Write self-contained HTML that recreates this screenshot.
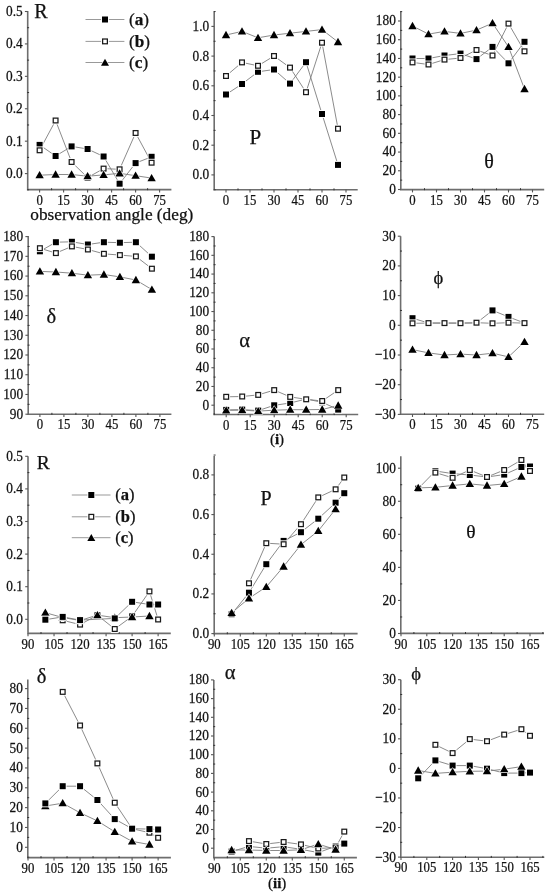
<!DOCTYPE html>
<html><head><meta charset="utf-8"><title>Figure</title>
<style>
html,body{margin:0;padding:0;background:#fff;}
body{width:550px;height:895px;overflow:hidden;}
svg{display:block;filter:blur(0.3px);}
text{font-family:"Liberation Serif","Times New Roman",serif;fill:#111;stroke:#111;stroke-width:0.25px;}
.yl{font-size:14.5px;text-anchor:end;}
.xl{font-size:14.2px;text-anchor:middle;}
.tt{fill:#111;}
.lg{font-weight:normal;}
.ob{font-size:16.8px;}
.lab{font-size:15px;text-anchor:middle;}
</style></head>
<body>
<svg width="550" height="895" viewBox="0 0 550 895">
<rect width="550" height="895" fill="#fff"/>
<path d="M27.7 11V189.6H171.4" fill="none" stroke="#6e6e6e" stroke-width="1.6"/>
<path d="M24.9 173.6H27.7" stroke="#555" stroke-width="1.1"/>
<text transform="matrix(0.92 0 0 1 22.7 178)" class="yl">0.0</text>
<path d="M24.9 141.18H27.7" stroke="#555" stroke-width="1.1"/>
<text transform="matrix(0.92 0 0 1 22.7 145.58)" class="yl">0.1</text>
<path d="M24.9 108.76H27.7" stroke="#555" stroke-width="1.1"/>
<text transform="matrix(0.92 0 0 1 22.7 113.16)" class="yl">0.2</text>
<path d="M24.9 76.34H27.7" stroke="#555" stroke-width="1.1"/>
<text transform="matrix(0.92 0 0 1 22.7 80.74)" class="yl">0.3</text>
<path d="M24.9 43.92H27.7" stroke="#555" stroke-width="1.1"/>
<text transform="matrix(0.92 0 0 1 22.7 48.32)" class="yl">0.4</text>
<path d="M24.9 11.5H27.7" stroke="#555" stroke-width="1.1"/>
<text transform="matrix(0.92 0 0 1 22.7 15.9)" class="yl">0.5</text>
<path d="M27.1 189.81H29.1" stroke="#333" stroke-width="1"/>
<path d="M27.1 157.39H29.1" stroke="#333" stroke-width="1"/>
<path d="M27.1 124.97H29.1" stroke="#333" stroke-width="1"/>
<path d="M27.1 92.55H29.1" stroke="#333" stroke-width="1"/>
<path d="M27.1 60.13H29.1" stroke="#333" stroke-width="1"/>
<path d="M27.1 27.71H29.1" stroke="#333" stroke-width="1"/>
<path d="M39.6 189.6V192.4" stroke="#555" stroke-width="1.1"/>
<text transform="matrix(0.9 0 0 1 39.6 204.7)" class="xl">0</text>
<path d="M63.6 189.6V192.4" stroke="#555" stroke-width="1.1"/>
<text transform="matrix(0.9 0 0 1 63.6 204.7)" class="xl">15</text>
<path d="M87.6 189.6V192.4" stroke="#555" stroke-width="1.1"/>
<text transform="matrix(0.9 0 0 1 87.6 204.7)" class="xl">30</text>
<path d="M111.6 189.6V192.4" stroke="#555" stroke-width="1.1"/>
<text transform="matrix(0.9 0 0 1 111.6 204.7)" class="xl">45</text>
<path d="M135.6 189.6V192.4" stroke="#555" stroke-width="1.1"/>
<text transform="matrix(0.9 0 0 1 135.6 204.7)" class="xl">60</text>
<path d="M159.6 189.6V192.4" stroke="#555" stroke-width="1.1"/>
<text transform="matrix(0.9 0 0 1 159.6 204.7)" class="xl">75</text>
<path d="M51.6 188.2V190.2" stroke="#333" stroke-width="1"/>
<path d="M75.6 188.2V190.2" stroke="#333" stroke-width="1"/>
<path d="M99.6 188.2V190.2" stroke="#333" stroke-width="1"/>
<path d="M123.6 188.2V190.2" stroke="#333" stroke-width="1"/>
<path d="M147.6 188.2V190.2" stroke="#333" stroke-width="1"/>
<path d="M214.2 11.8V189.8H357.7" fill="none" stroke="#6e6e6e" stroke-width="1.6"/>
<path d="M211.4 174.9H214.2" stroke="#555" stroke-width="1.1"/>
<text transform="matrix(0.92 0 0 1 209.2 179.3)" class="yl">0.0</text>
<path d="M211.4 145.2H214.2" stroke="#555" stroke-width="1.1"/>
<text transform="matrix(0.92 0 0 1 209.2 149.6)" class="yl">0.2</text>
<path d="M211.4 115.5H214.2" stroke="#555" stroke-width="1.1"/>
<text transform="matrix(0.92 0 0 1 209.2 119.9)" class="yl">0.4</text>
<path d="M211.4 85.8H214.2" stroke="#555" stroke-width="1.1"/>
<text transform="matrix(0.92 0 0 1 209.2 90.2)" class="yl">0.6</text>
<path d="M211.4 56.1H214.2" stroke="#555" stroke-width="1.1"/>
<text transform="matrix(0.92 0 0 1 209.2 60.5)" class="yl">0.8</text>
<path d="M211.4 26.4H214.2" stroke="#555" stroke-width="1.1"/>
<text transform="matrix(0.92 0 0 1 209.2 30.8)" class="yl">1.0</text>
<path d="M213.6 189.75H215.6" stroke="#333" stroke-width="1"/>
<path d="M213.6 160.05H215.6" stroke="#333" stroke-width="1"/>
<path d="M213.6 130.35H215.6" stroke="#333" stroke-width="1"/>
<path d="M213.6 100.65H215.6" stroke="#333" stroke-width="1"/>
<path d="M213.6 70.95H215.6" stroke="#333" stroke-width="1"/>
<path d="M213.6 41.25H215.6" stroke="#333" stroke-width="1"/>
<path d="M213.6 11.55H215.6" stroke="#333" stroke-width="1"/>
<path d="M226 189.8V192.6" stroke="#555" stroke-width="1.1"/>
<text transform="matrix(0.9 0 0 1 226 204.9)" class="xl">0</text>
<path d="M250 189.8V192.6" stroke="#555" stroke-width="1.1"/>
<text transform="matrix(0.9 0 0 1 250 204.9)" class="xl">15</text>
<path d="M274 189.8V192.6" stroke="#555" stroke-width="1.1"/>
<text transform="matrix(0.9 0 0 1 274 204.9)" class="xl">30</text>
<path d="M298 189.8V192.6" stroke="#555" stroke-width="1.1"/>
<text transform="matrix(0.9 0 0 1 298 204.9)" class="xl">45</text>
<path d="M322 189.8V192.6" stroke="#555" stroke-width="1.1"/>
<text transform="matrix(0.9 0 0 1 322 204.9)" class="xl">60</text>
<path d="M346 189.8V192.6" stroke="#555" stroke-width="1.1"/>
<text transform="matrix(0.9 0 0 1 346 204.9)" class="xl">75</text>
<path d="M238 188.4V190.4" stroke="#333" stroke-width="1"/>
<path d="M262 188.4V190.4" stroke="#333" stroke-width="1"/>
<path d="M286 188.4V190.4" stroke="#333" stroke-width="1"/>
<path d="M310 188.4V190.4" stroke="#333" stroke-width="1"/>
<path d="M334 188.4V190.4" stroke="#333" stroke-width="1"/>
<path d="M400.8 11.3V189.6H544.2" fill="none" stroke="#6e6e6e" stroke-width="1.6"/>
<path d="M398 189.5H400.8" stroke="#555" stroke-width="1.1"/>
<text transform="matrix(0.92 0 0 1 395.8 193.9)" class="yl">0</text>
<path d="M398 170.78H400.8" stroke="#555" stroke-width="1.1"/>
<text transform="matrix(0.92 0 0 1 395.8 175.18)" class="yl">20</text>
<path d="M398 152.06H400.8" stroke="#555" stroke-width="1.1"/>
<text transform="matrix(0.92 0 0 1 395.8 156.46)" class="yl">40</text>
<path d="M398 133.33H400.8" stroke="#555" stroke-width="1.1"/>
<text transform="matrix(0.92 0 0 1 395.8 137.73)" class="yl">60</text>
<path d="M398 114.61H400.8" stroke="#555" stroke-width="1.1"/>
<text transform="matrix(0.92 0 0 1 395.8 119.01)" class="yl">80</text>
<path d="M398 95.89H400.8" stroke="#555" stroke-width="1.1"/>
<text transform="matrix(0.92 0 0 1 395.8 100.29)" class="yl">100</text>
<path d="M398 77.17H400.8" stroke="#555" stroke-width="1.1"/>
<text transform="matrix(0.92 0 0 1 395.8 81.57)" class="yl">120</text>
<path d="M398 58.44H400.8" stroke="#555" stroke-width="1.1"/>
<text transform="matrix(0.92 0 0 1 395.8 62.84)" class="yl">140</text>
<path d="M398 39.72H400.8" stroke="#555" stroke-width="1.1"/>
<text transform="matrix(0.92 0 0 1 395.8 44.12)" class="yl">160</text>
<path d="M398 21H400.8" stroke="#555" stroke-width="1.1"/>
<text transform="matrix(0.92 0 0 1 395.8 25.4)" class="yl">180</text>
<path d="M400.2 180.14H402.2" stroke="#333" stroke-width="1"/>
<path d="M400.2 161.42H402.2" stroke="#333" stroke-width="1"/>
<path d="M400.2 142.69H402.2" stroke="#333" stroke-width="1"/>
<path d="M400.2 123.97H402.2" stroke="#333" stroke-width="1"/>
<path d="M400.2 105.25H402.2" stroke="#333" stroke-width="1"/>
<path d="M400.2 86.53H402.2" stroke="#333" stroke-width="1"/>
<path d="M400.2 67.81H402.2" stroke="#333" stroke-width="1"/>
<path d="M400.2 49.08H402.2" stroke="#333" stroke-width="1"/>
<path d="M400.2 30.36H402.2" stroke="#333" stroke-width="1"/>
<path d="M400.2 11.64H402.2" stroke="#333" stroke-width="1"/>
<path d="M412.5 189.6V192.4" stroke="#555" stroke-width="1.1"/>
<text transform="matrix(0.9 0 0 1 412.5 204.7)" class="xl">0</text>
<path d="M436.5 189.6V192.4" stroke="#555" stroke-width="1.1"/>
<text transform="matrix(0.9 0 0 1 436.5 204.7)" class="xl">15</text>
<path d="M460.5 189.6V192.4" stroke="#555" stroke-width="1.1"/>
<text transform="matrix(0.9 0 0 1 460.5 204.7)" class="xl">30</text>
<path d="M484.5 189.6V192.4" stroke="#555" stroke-width="1.1"/>
<text transform="matrix(0.9 0 0 1 484.5 204.7)" class="xl">45</text>
<path d="M508.5 189.6V192.4" stroke="#555" stroke-width="1.1"/>
<text transform="matrix(0.9 0 0 1 508.5 204.7)" class="xl">60</text>
<path d="M532.5 189.6V192.4" stroke="#555" stroke-width="1.1"/>
<text transform="matrix(0.9 0 0 1 532.5 204.7)" class="xl">75</text>
<path d="M424.5 188.2V190.2" stroke="#333" stroke-width="1"/>
<path d="M448.5 188.2V190.2" stroke="#333" stroke-width="1"/>
<path d="M472.5 188.2V190.2" stroke="#333" stroke-width="1"/>
<path d="M496.5 188.2V190.2" stroke="#333" stroke-width="1"/>
<path d="M520.5 188.2V190.2" stroke="#333" stroke-width="1"/>
<path d="M28.2 236V414.2H171.4" fill="none" stroke="#6e6e6e" stroke-width="1.6"/>
<path d="M25.4 414.2H28.2" stroke="#555" stroke-width="1.1"/>
<text transform="matrix(0.92 0 0 1 23.2 418.6)" class="yl">90</text>
<path d="M25.4 394.47H28.2" stroke="#555" stroke-width="1.1"/>
<text transform="matrix(0.92 0 0 1 23.2 398.87)" class="yl">100</text>
<path d="M25.4 374.73H28.2" stroke="#555" stroke-width="1.1"/>
<text transform="matrix(0.92 0 0 1 23.2 379.13)" class="yl">110</text>
<path d="M25.4 355H28.2" stroke="#555" stroke-width="1.1"/>
<text transform="matrix(0.92 0 0 1 23.2 359.4)" class="yl">120</text>
<path d="M25.4 335.27H28.2" stroke="#555" stroke-width="1.1"/>
<text transform="matrix(0.92 0 0 1 23.2 339.67)" class="yl">130</text>
<path d="M25.4 315.53H28.2" stroke="#555" stroke-width="1.1"/>
<text transform="matrix(0.92 0 0 1 23.2 319.93)" class="yl">140</text>
<path d="M25.4 295.8H28.2" stroke="#555" stroke-width="1.1"/>
<text transform="matrix(0.92 0 0 1 23.2 300.2)" class="yl">150</text>
<path d="M25.4 276.07H28.2" stroke="#555" stroke-width="1.1"/>
<text transform="matrix(0.92 0 0 1 23.2 280.47)" class="yl">160</text>
<path d="M25.4 256.33H28.2" stroke="#555" stroke-width="1.1"/>
<text transform="matrix(0.92 0 0 1 23.2 260.73)" class="yl">170</text>
<path d="M25.4 236.6H28.2" stroke="#555" stroke-width="1.1"/>
<text transform="matrix(0.92 0 0 1 23.2 241)" class="yl">180</text>
<path d="M27.6 404.33H29.6" stroke="#333" stroke-width="1"/>
<path d="M27.6 384.6H29.6" stroke="#333" stroke-width="1"/>
<path d="M27.6 364.87H29.6" stroke="#333" stroke-width="1"/>
<path d="M27.6 345.13H29.6" stroke="#333" stroke-width="1"/>
<path d="M27.6 325.4H29.6" stroke="#333" stroke-width="1"/>
<path d="M27.6 305.67H29.6" stroke="#333" stroke-width="1"/>
<path d="M27.6 285.93H29.6" stroke="#333" stroke-width="1"/>
<path d="M27.6 266.2H29.6" stroke="#333" stroke-width="1"/>
<path d="M27.6 246.47H29.6" stroke="#333" stroke-width="1"/>
<path d="M39.9 414.2V417" stroke="#555" stroke-width="1.1"/>
<text transform="matrix(0.9 0 0 1 39.9 429.3)" class="xl">0</text>
<path d="M63.9 414.2V417" stroke="#555" stroke-width="1.1"/>
<text transform="matrix(0.9 0 0 1 63.9 429.3)" class="xl">15</text>
<path d="M87.9 414.2V417" stroke="#555" stroke-width="1.1"/>
<text transform="matrix(0.9 0 0 1 87.9 429.3)" class="xl">30</text>
<path d="M111.9 414.2V417" stroke="#555" stroke-width="1.1"/>
<text transform="matrix(0.9 0 0 1 111.9 429.3)" class="xl">45</text>
<path d="M135.9 414.2V417" stroke="#555" stroke-width="1.1"/>
<text transform="matrix(0.9 0 0 1 135.9 429.3)" class="xl">60</text>
<path d="M159.9 414.2V417" stroke="#555" stroke-width="1.1"/>
<text transform="matrix(0.9 0 0 1 159.9 429.3)" class="xl">75</text>
<path d="M51.9 412.8V414.8" stroke="#333" stroke-width="1"/>
<path d="M75.9 412.8V414.8" stroke="#333" stroke-width="1"/>
<path d="M99.9 412.8V414.8" stroke="#333" stroke-width="1"/>
<path d="M123.9 412.8V414.8" stroke="#333" stroke-width="1"/>
<path d="M147.9 412.8V414.8" stroke="#333" stroke-width="1"/>
<path d="M214.2 236.4V414.5H358.2" fill="none" stroke="#6e6e6e" stroke-width="1.6"/>
<path d="M211.4 405.2H214.2" stroke="#555" stroke-width="1.1"/>
<text transform="matrix(0.92 0 0 1 209.2 409.6)" class="yl">0</text>
<path d="M211.4 386.47H214.2" stroke="#555" stroke-width="1.1"/>
<text transform="matrix(0.92 0 0 1 209.2 390.87)" class="yl">20</text>
<path d="M211.4 367.73H214.2" stroke="#555" stroke-width="1.1"/>
<text transform="matrix(0.92 0 0 1 209.2 372.13)" class="yl">40</text>
<path d="M211.4 349H214.2" stroke="#555" stroke-width="1.1"/>
<text transform="matrix(0.92 0 0 1 209.2 353.4)" class="yl">60</text>
<path d="M211.4 330.27H214.2" stroke="#555" stroke-width="1.1"/>
<text transform="matrix(0.92 0 0 1 209.2 334.67)" class="yl">80</text>
<path d="M211.4 311.53H214.2" stroke="#555" stroke-width="1.1"/>
<text transform="matrix(0.92 0 0 1 209.2 315.93)" class="yl">100</text>
<path d="M211.4 292.8H214.2" stroke="#555" stroke-width="1.1"/>
<text transform="matrix(0.92 0 0 1 209.2 297.2)" class="yl">120</text>
<path d="M211.4 274.07H214.2" stroke="#555" stroke-width="1.1"/>
<text transform="matrix(0.92 0 0 1 209.2 278.47)" class="yl">140</text>
<path d="M211.4 255.33H214.2" stroke="#555" stroke-width="1.1"/>
<text transform="matrix(0.92 0 0 1 209.2 259.73)" class="yl">160</text>
<path d="M211.4 236.6H214.2" stroke="#555" stroke-width="1.1"/>
<text transform="matrix(0.92 0 0 1 209.2 241)" class="yl">180</text>
<path d="M213.6 395.83H215.6" stroke="#333" stroke-width="1"/>
<path d="M213.6 377.1H215.6" stroke="#333" stroke-width="1"/>
<path d="M213.6 358.37H215.6" stroke="#333" stroke-width="1"/>
<path d="M213.6 339.63H215.6" stroke="#333" stroke-width="1"/>
<path d="M213.6 320.9H215.6" stroke="#333" stroke-width="1"/>
<path d="M213.6 302.17H215.6" stroke="#333" stroke-width="1"/>
<path d="M213.6 283.43H215.6" stroke="#333" stroke-width="1"/>
<path d="M213.6 264.7H215.6" stroke="#333" stroke-width="1"/>
<path d="M213.6 245.97H215.6" stroke="#333" stroke-width="1"/>
<path d="M226.2 414.5V417.3" stroke="#555" stroke-width="1.1"/>
<text transform="matrix(0.9 0 0 1 226.2 429.6)" class="xl">0</text>
<path d="M250.2 414.5V417.3" stroke="#555" stroke-width="1.1"/>
<text transform="matrix(0.9 0 0 1 250.2 429.6)" class="xl">15</text>
<path d="M274.2 414.5V417.3" stroke="#555" stroke-width="1.1"/>
<text transform="matrix(0.9 0 0 1 274.2 429.6)" class="xl">30</text>
<path d="M298.2 414.5V417.3" stroke="#555" stroke-width="1.1"/>
<text transform="matrix(0.9 0 0 1 298.2 429.6)" class="xl">45</text>
<path d="M322.2 414.5V417.3" stroke="#555" stroke-width="1.1"/>
<text transform="matrix(0.9 0 0 1 322.2 429.6)" class="xl">60</text>
<path d="M346.2 414.5V417.3" stroke="#555" stroke-width="1.1"/>
<text transform="matrix(0.9 0 0 1 346.2 429.6)" class="xl">75</text>
<path d="M214.2 413.1V415.1" stroke="#333" stroke-width="1"/>
<path d="M238.2 413.1V415.1" stroke="#333" stroke-width="1"/>
<path d="M262.2 413.1V415.1" stroke="#333" stroke-width="1"/>
<path d="M286.2 413.1V415.1" stroke="#333" stroke-width="1"/>
<path d="M310.2 413.1V415.1" stroke="#333" stroke-width="1"/>
<path d="M334.2 413.1V415.1" stroke="#333" stroke-width="1"/>
<path d="M400.6 236.2V414.2H544.2" fill="none" stroke="#6e6e6e" stroke-width="1.6"/>
<path d="M397.8 414.4H400.6" stroke="#555" stroke-width="1.1"/>
<text transform="matrix(0.92 0 0 1 395.6 418.8)" class="yl">−30</text>
<path d="M397.8 384.7H400.6" stroke="#555" stroke-width="1.1"/>
<text transform="matrix(0.92 0 0 1 395.6 389.1)" class="yl">−20</text>
<path d="M397.8 355H400.6" stroke="#555" stroke-width="1.1"/>
<text transform="matrix(0.92 0 0 1 395.6 359.4)" class="yl">−10</text>
<path d="M397.8 325.3H400.6" stroke="#555" stroke-width="1.1"/>
<text transform="matrix(0.92 0 0 1 395.6 329.7)" class="yl">0</text>
<path d="M397.8 295.6H400.6" stroke="#555" stroke-width="1.1"/>
<text transform="matrix(0.92 0 0 1 395.6 300)" class="yl">10</text>
<path d="M397.8 265.9H400.6" stroke="#555" stroke-width="1.1"/>
<text transform="matrix(0.92 0 0 1 395.6 270.3)" class="yl">20</text>
<path d="M397.8 236.2H400.6" stroke="#555" stroke-width="1.1"/>
<text transform="matrix(0.92 0 0 1 395.6 240.6)" class="yl">30</text>
<path d="M400 399.55H402" stroke="#333" stroke-width="1"/>
<path d="M400 369.85H402" stroke="#333" stroke-width="1"/>
<path d="M400 340.15H402" stroke="#333" stroke-width="1"/>
<path d="M400 310.45H402" stroke="#333" stroke-width="1"/>
<path d="M400 280.75H402" stroke="#333" stroke-width="1"/>
<path d="M400 251.05H402" stroke="#333" stroke-width="1"/>
<path d="M412.5 414.2V417" stroke="#555" stroke-width="1.1"/>
<text transform="matrix(0.9 0 0 1 412.5 429.3)" class="xl">0</text>
<path d="M436.5 414.2V417" stroke="#555" stroke-width="1.1"/>
<text transform="matrix(0.9 0 0 1 436.5 429.3)" class="xl">15</text>
<path d="M460.5 414.2V417" stroke="#555" stroke-width="1.1"/>
<text transform="matrix(0.9 0 0 1 460.5 429.3)" class="xl">30</text>
<path d="M484.5 414.2V417" stroke="#555" stroke-width="1.1"/>
<text transform="matrix(0.9 0 0 1 484.5 429.3)" class="xl">45</text>
<path d="M508.5 414.2V417" stroke="#555" stroke-width="1.1"/>
<text transform="matrix(0.9 0 0 1 508.5 429.3)" class="xl">60</text>
<path d="M532.5 414.2V417" stroke="#555" stroke-width="1.1"/>
<text transform="matrix(0.9 0 0 1 532.5 429.3)" class="xl">75</text>
<path d="M424.5 412.8V414.8" stroke="#333" stroke-width="1"/>
<path d="M448.5 412.8V414.8" stroke="#333" stroke-width="1"/>
<path d="M472.5 412.8V414.8" stroke="#333" stroke-width="1"/>
<path d="M496.5 412.8V414.8" stroke="#333" stroke-width="1"/>
<path d="M520.5 412.8V414.8" stroke="#333" stroke-width="1"/>
<path d="M28 456.3V633.4H170.8" fill="none" stroke="#6e6e6e" stroke-width="1.6"/>
<path d="M25.2 619.3H28" stroke="#555" stroke-width="1.1"/>
<text transform="matrix(0.92 0 0 1 23 623.7)" class="yl">0.0</text>
<path d="M25.2 586.7H28" stroke="#555" stroke-width="1.1"/>
<text transform="matrix(0.92 0 0 1 23 591.1)" class="yl">0.1</text>
<path d="M25.2 554.1H28" stroke="#555" stroke-width="1.1"/>
<text transform="matrix(0.92 0 0 1 23 558.5)" class="yl">0.2</text>
<path d="M25.2 521.5H28" stroke="#555" stroke-width="1.1"/>
<text transform="matrix(0.92 0 0 1 23 525.9)" class="yl">0.3</text>
<path d="M25.2 488.9H28" stroke="#555" stroke-width="1.1"/>
<text transform="matrix(0.92 0 0 1 23 493.3)" class="yl">0.4</text>
<path d="M25.2 456.3H28" stroke="#555" stroke-width="1.1"/>
<text transform="matrix(0.92 0 0 1 23 460.7)" class="yl">0.5</text>
<path d="M27.4 603H29.4" stroke="#333" stroke-width="1"/>
<path d="M27.4 570.4H29.4" stroke="#333" stroke-width="1"/>
<path d="M27.4 537.8H29.4" stroke="#333" stroke-width="1"/>
<path d="M27.4 505.2H29.4" stroke="#333" stroke-width="1"/>
<path d="M27.4 472.6H29.4" stroke="#333" stroke-width="1"/>
<path d="M28 633.4V636.2" stroke="#555" stroke-width="1.1"/>
<text transform="matrix(0.9 0 0 1 28 648.5)" class="xl">90</text>
<path d="M54.03 633.4V636.2" stroke="#555" stroke-width="1.1"/>
<text transform="matrix(0.9 0 0 1 54.03 648.5)" class="xl">105</text>
<path d="M80.05 633.4V636.2" stroke="#555" stroke-width="1.1"/>
<text transform="matrix(0.9 0 0 1 80.05 648.5)" class="xl">120</text>
<path d="M106.08 633.4V636.2" stroke="#555" stroke-width="1.1"/>
<text transform="matrix(0.9 0 0 1 106.08 648.5)" class="xl">135</text>
<path d="M132.1 633.4V636.2" stroke="#555" stroke-width="1.1"/>
<text transform="matrix(0.9 0 0 1 132.1 648.5)" class="xl">150</text>
<path d="M158.12 633.4V636.2" stroke="#555" stroke-width="1.1"/>
<text transform="matrix(0.9 0 0 1 158.12 648.5)" class="xl">165</text>
<path d="M41.01 632V634" stroke="#333" stroke-width="1"/>
<path d="M67.04 632V634" stroke="#333" stroke-width="1"/>
<path d="M93.06 632V634" stroke="#333" stroke-width="1"/>
<path d="M119.09 632V634" stroke="#333" stroke-width="1"/>
<path d="M145.11 632V634" stroke="#333" stroke-width="1"/>
<path d="M214.2 455.9V633.6H357.6" fill="none" stroke="#6e6e6e" stroke-width="1.6"/>
<path d="M211.4 633.6H214.2" stroke="#555" stroke-width="1.1"/>
<text transform="matrix(0.92 0 0 1 209.2 638)" class="yl">0.0</text>
<path d="M211.4 593.92H214.2" stroke="#555" stroke-width="1.1"/>
<text transform="matrix(0.92 0 0 1 209.2 598.32)" class="yl">0.2</text>
<path d="M211.4 554.25H214.2" stroke="#555" stroke-width="1.1"/>
<text transform="matrix(0.92 0 0 1 209.2 558.65)" class="yl">0.4</text>
<path d="M211.4 514.58H214.2" stroke="#555" stroke-width="1.1"/>
<text transform="matrix(0.92 0 0 1 209.2 518.98)" class="yl">0.6</text>
<path d="M211.4 474.9H214.2" stroke="#555" stroke-width="1.1"/>
<text transform="matrix(0.92 0 0 1 209.2 479.3)" class="yl">0.8</text>
<path d="M213.6 613.76H215.6" stroke="#333" stroke-width="1"/>
<path d="M213.6 574.09H215.6" stroke="#333" stroke-width="1"/>
<path d="M213.6 534.41H215.6" stroke="#333" stroke-width="1"/>
<path d="M213.6 494.74H215.6" stroke="#333" stroke-width="1"/>
<path d="M213.6 455.06H215.6" stroke="#333" stroke-width="1"/>
<path d="M214.3 633.6V636.4" stroke="#555" stroke-width="1.1"/>
<text transform="matrix(0.9 0 0 1 214.3 648.7)" class="xl">90</text>
<path d="M240.3 633.6V636.4" stroke="#555" stroke-width="1.1"/>
<text transform="matrix(0.9 0 0 1 240.3 648.7)" class="xl">105</text>
<path d="M266.29 633.6V636.4" stroke="#555" stroke-width="1.1"/>
<text transform="matrix(0.9 0 0 1 266.29 648.7)" class="xl">120</text>
<path d="M292.29 633.6V636.4" stroke="#555" stroke-width="1.1"/>
<text transform="matrix(0.9 0 0 1 292.29 648.7)" class="xl">135</text>
<path d="M318.28 633.6V636.4" stroke="#555" stroke-width="1.1"/>
<text transform="matrix(0.9 0 0 1 318.28 648.7)" class="xl">150</text>
<path d="M344.27 633.6V636.4" stroke="#555" stroke-width="1.1"/>
<text transform="matrix(0.9 0 0 1 344.27 648.7)" class="xl">165</text>
<path d="M227.3 632.2V634.2" stroke="#333" stroke-width="1"/>
<path d="M253.29 632.2V634.2" stroke="#333" stroke-width="1"/>
<path d="M279.29 632.2V634.2" stroke="#333" stroke-width="1"/>
<path d="M305.28 632.2V634.2" stroke="#333" stroke-width="1"/>
<path d="M331.28 632.2V634.2" stroke="#333" stroke-width="1"/>
<path d="M400.8 456.3V633.4H544" fill="none" stroke="#6e6e6e" stroke-width="1.6"/>
<path d="M398 633.5H400.8" stroke="#555" stroke-width="1.1"/>
<text transform="matrix(0.92 0 0 1 395.8 637.9)" class="yl">0</text>
<path d="M398 600.44H400.8" stroke="#555" stroke-width="1.1"/>
<text transform="matrix(0.92 0 0 1 395.8 604.84)" class="yl">20</text>
<path d="M398 567.38H400.8" stroke="#555" stroke-width="1.1"/>
<text transform="matrix(0.92 0 0 1 395.8 571.78)" class="yl">40</text>
<path d="M398 534.32H400.8" stroke="#555" stroke-width="1.1"/>
<text transform="matrix(0.92 0 0 1 395.8 538.72)" class="yl">60</text>
<path d="M398 501.26H400.8" stroke="#555" stroke-width="1.1"/>
<text transform="matrix(0.92 0 0 1 395.8 505.66)" class="yl">80</text>
<path d="M398 468.2H400.8" stroke="#555" stroke-width="1.1"/>
<text transform="matrix(0.92 0 0 1 395.8 472.6)" class="yl">100</text>
<path d="M400.2 616.97H402.2" stroke="#333" stroke-width="1"/>
<path d="M400.2 583.91H402.2" stroke="#333" stroke-width="1"/>
<path d="M400.2 550.85H402.2" stroke="#333" stroke-width="1"/>
<path d="M400.2 517.79H402.2" stroke="#333" stroke-width="1"/>
<path d="M400.2 484.73H402.2" stroke="#333" stroke-width="1"/>
<path d="M401 633.4V636.2" stroke="#555" stroke-width="1.1"/>
<text transform="matrix(0.9 0 0 1 401 648.5)" class="xl">90</text>
<path d="M426.8 633.4V636.2" stroke="#555" stroke-width="1.1"/>
<text transform="matrix(0.9 0 0 1 426.8 648.5)" class="xl">105</text>
<path d="M452.6 633.4V636.2" stroke="#555" stroke-width="1.1"/>
<text transform="matrix(0.9 0 0 1 452.6 648.5)" class="xl">120</text>
<path d="M478.4 633.4V636.2" stroke="#555" stroke-width="1.1"/>
<text transform="matrix(0.9 0 0 1 478.4 648.5)" class="xl">135</text>
<path d="M504.2 633.4V636.2" stroke="#555" stroke-width="1.1"/>
<text transform="matrix(0.9 0 0 1 504.2 648.5)" class="xl">150</text>
<path d="M530 633.4V636.2" stroke="#555" stroke-width="1.1"/>
<text transform="matrix(0.9 0 0 1 530 648.5)" class="xl">165</text>
<path d="M413.9 632V634" stroke="#333" stroke-width="1"/>
<path d="M439.7 632V634" stroke="#333" stroke-width="1"/>
<path d="M465.5 632V634" stroke="#333" stroke-width="1"/>
<path d="M491.3 632V634" stroke="#333" stroke-width="1"/>
<path d="M517.1 632V634" stroke="#333" stroke-width="1"/>
<path d="M542.9 632V634" stroke="#333" stroke-width="1"/>
<path d="M27.8 679.5V857.6H170.9" fill="none" stroke="#6e6e6e" stroke-width="1.6"/>
<path d="M25 847.3H27.8" stroke="#555" stroke-width="1.1"/>
<text transform="matrix(0.92 0 0 1 22.8 851.7)" class="yl">0</text>
<path d="M25 827.46H27.8" stroke="#555" stroke-width="1.1"/>
<text transform="matrix(0.92 0 0 1 22.8 831.86)" class="yl">10</text>
<path d="M25 807.62H27.8" stroke="#555" stroke-width="1.1"/>
<text transform="matrix(0.92 0 0 1 22.8 812.02)" class="yl">20</text>
<path d="M25 787.79H27.8" stroke="#555" stroke-width="1.1"/>
<text transform="matrix(0.92 0 0 1 22.8 792.19)" class="yl">30</text>
<path d="M25 767.95H27.8" stroke="#555" stroke-width="1.1"/>
<text transform="matrix(0.92 0 0 1 22.8 772.35)" class="yl">40</text>
<path d="M25 748.11H27.8" stroke="#555" stroke-width="1.1"/>
<text transform="matrix(0.92 0 0 1 22.8 752.51)" class="yl">50</text>
<path d="M25 728.27H27.8" stroke="#555" stroke-width="1.1"/>
<text transform="matrix(0.92 0 0 1 22.8 732.67)" class="yl">60</text>
<path d="M25 708.44H27.8" stroke="#555" stroke-width="1.1"/>
<text transform="matrix(0.92 0 0 1 22.8 712.84)" class="yl">70</text>
<path d="M25 688.6H27.8" stroke="#555" stroke-width="1.1"/>
<text transform="matrix(0.92 0 0 1 22.8 693)" class="yl">80</text>
<path d="M27.2 857.22H29.2" stroke="#333" stroke-width="1"/>
<path d="M27.2 837.38H29.2" stroke="#333" stroke-width="1"/>
<path d="M27.2 817.54H29.2" stroke="#333" stroke-width="1"/>
<path d="M27.2 797.71H29.2" stroke="#333" stroke-width="1"/>
<path d="M27.2 777.87H29.2" stroke="#333" stroke-width="1"/>
<path d="M27.2 758.03H29.2" stroke="#333" stroke-width="1"/>
<path d="M27.2 738.19H29.2" stroke="#333" stroke-width="1"/>
<path d="M27.2 718.36H29.2" stroke="#333" stroke-width="1"/>
<path d="M27.2 698.52H29.2" stroke="#333" stroke-width="1"/>
<path d="M28 857.6V860.4" stroke="#555" stroke-width="1.1"/>
<text transform="matrix(0.9 0 0 1 28 872.7)" class="xl">90</text>
<path d="M54.03 857.6V860.4" stroke="#555" stroke-width="1.1"/>
<text transform="matrix(0.9 0 0 1 54.03 872.7)" class="xl">105</text>
<path d="M80.05 857.6V860.4" stroke="#555" stroke-width="1.1"/>
<text transform="matrix(0.9 0 0 1 80.05 872.7)" class="xl">120</text>
<path d="M106.08 857.6V860.4" stroke="#555" stroke-width="1.1"/>
<text transform="matrix(0.9 0 0 1 106.08 872.7)" class="xl">135</text>
<path d="M132.1 857.6V860.4" stroke="#555" stroke-width="1.1"/>
<text transform="matrix(0.9 0 0 1 132.1 872.7)" class="xl">150</text>
<path d="M158.12 857.6V860.4" stroke="#555" stroke-width="1.1"/>
<text transform="matrix(0.9 0 0 1 158.12 872.7)" class="xl">165</text>
<path d="M41.01 856.2V858.2" stroke="#333" stroke-width="1"/>
<path d="M67.04 856.2V858.2" stroke="#333" stroke-width="1"/>
<path d="M93.06 856.2V858.2" stroke="#333" stroke-width="1"/>
<path d="M119.09 856.2V858.2" stroke="#333" stroke-width="1"/>
<path d="M145.11 856.2V858.2" stroke="#333" stroke-width="1"/>
<path d="M213.8 679.9V857.6H356.9" fill="none" stroke="#6e6e6e" stroke-width="1.6"/>
<path d="M211 848.2H213.8" stroke="#555" stroke-width="1.1"/>
<text transform="matrix(0.92 0 0 1 208.8 852.6)" class="yl">0</text>
<path d="M211 829.5H213.8" stroke="#555" stroke-width="1.1"/>
<text transform="matrix(0.92 0 0 1 208.8 833.9)" class="yl">20</text>
<path d="M211 810.8H213.8" stroke="#555" stroke-width="1.1"/>
<text transform="matrix(0.92 0 0 1 208.8 815.2)" class="yl">40</text>
<path d="M211 792.1H213.8" stroke="#555" stroke-width="1.1"/>
<text transform="matrix(0.92 0 0 1 208.8 796.5)" class="yl">60</text>
<path d="M211 773.4H213.8" stroke="#555" stroke-width="1.1"/>
<text transform="matrix(0.92 0 0 1 208.8 777.8)" class="yl">80</text>
<path d="M211 754.7H213.8" stroke="#555" stroke-width="1.1"/>
<text transform="matrix(0.92 0 0 1 208.8 759.1)" class="yl">100</text>
<path d="M211 736H213.8" stroke="#555" stroke-width="1.1"/>
<text transform="matrix(0.92 0 0 1 208.8 740.4)" class="yl">120</text>
<path d="M211 717.3H213.8" stroke="#555" stroke-width="1.1"/>
<text transform="matrix(0.92 0 0 1 208.8 721.7)" class="yl">140</text>
<path d="M211 698.6H213.8" stroke="#555" stroke-width="1.1"/>
<text transform="matrix(0.92 0 0 1 208.8 703)" class="yl">160</text>
<path d="M211 679.9H213.8" stroke="#555" stroke-width="1.1"/>
<text transform="matrix(0.92 0 0 1 208.8 684.3)" class="yl">180</text>
<path d="M213.2 838.85H215.2" stroke="#333" stroke-width="1"/>
<path d="M213.2 820.15H215.2" stroke="#333" stroke-width="1"/>
<path d="M213.2 801.45H215.2" stroke="#333" stroke-width="1"/>
<path d="M213.2 782.75H215.2" stroke="#333" stroke-width="1"/>
<path d="M213.2 764.05H215.2" stroke="#333" stroke-width="1"/>
<path d="M213.2 745.35H215.2" stroke="#333" stroke-width="1"/>
<path d="M213.2 726.65H215.2" stroke="#333" stroke-width="1"/>
<path d="M213.2 707.95H215.2" stroke="#333" stroke-width="1"/>
<path d="M213.2 689.25H215.2" stroke="#333" stroke-width="1"/>
<path d="M214.3 857.6V860.4" stroke="#555" stroke-width="1.1"/>
<text transform="matrix(0.9 0 0 1 214.3 872.7)" class="xl">90</text>
<path d="M240.3 857.6V860.4" stroke="#555" stroke-width="1.1"/>
<text transform="matrix(0.9 0 0 1 240.3 872.7)" class="xl">105</text>
<path d="M266.29 857.6V860.4" stroke="#555" stroke-width="1.1"/>
<text transform="matrix(0.9 0 0 1 266.29 872.7)" class="xl">120</text>
<path d="M292.29 857.6V860.4" stroke="#555" stroke-width="1.1"/>
<text transform="matrix(0.9 0 0 1 292.29 872.7)" class="xl">135</text>
<path d="M318.28 857.6V860.4" stroke="#555" stroke-width="1.1"/>
<text transform="matrix(0.9 0 0 1 318.28 872.7)" class="xl">150</text>
<path d="M344.27 857.6V860.4" stroke="#555" stroke-width="1.1"/>
<text transform="matrix(0.9 0 0 1 344.27 872.7)" class="xl">165</text>
<path d="M227.3 856.2V858.2" stroke="#333" stroke-width="1"/>
<path d="M253.29 856.2V858.2" stroke="#333" stroke-width="1"/>
<path d="M279.29 856.2V858.2" stroke="#333" stroke-width="1"/>
<path d="M305.28 856.2V858.2" stroke="#333" stroke-width="1"/>
<path d="M331.28 856.2V858.2" stroke="#333" stroke-width="1"/>
<path d="M400.8 679.7V857.3H544.3" fill="none" stroke="#6e6e6e" stroke-width="1.6"/>
<path d="M398 857.1H400.8" stroke="#555" stroke-width="1.1"/>
<text transform="matrix(0.92 0 0 1 395.8 861.5)" class="yl">−30</text>
<path d="M398 827.53H400.8" stroke="#555" stroke-width="1.1"/>
<text transform="matrix(0.92 0 0 1 395.8 831.93)" class="yl">−20</text>
<path d="M398 797.97H400.8" stroke="#555" stroke-width="1.1"/>
<text transform="matrix(0.92 0 0 1 395.8 802.37)" class="yl">−10</text>
<path d="M398 768.4H400.8" stroke="#555" stroke-width="1.1"/>
<text transform="matrix(0.92 0 0 1 395.8 772.8)" class="yl">0</text>
<path d="M398 738.83H400.8" stroke="#555" stroke-width="1.1"/>
<text transform="matrix(0.92 0 0 1 395.8 743.23)" class="yl">10</text>
<path d="M398 709.27H400.8" stroke="#555" stroke-width="1.1"/>
<text transform="matrix(0.92 0 0 1 395.8 713.67)" class="yl">20</text>
<path d="M398 679.7H400.8" stroke="#555" stroke-width="1.1"/>
<text transform="matrix(0.92 0 0 1 395.8 684.1)" class="yl">30</text>
<path d="M400.2 842.32H402.2" stroke="#333" stroke-width="1"/>
<path d="M400.2 812.75H402.2" stroke="#333" stroke-width="1"/>
<path d="M400.2 783.18H402.2" stroke="#333" stroke-width="1"/>
<path d="M400.2 753.62H402.2" stroke="#333" stroke-width="1"/>
<path d="M400.2 724.05H402.2" stroke="#333" stroke-width="1"/>
<path d="M400.2 694.48H402.2" stroke="#333" stroke-width="1"/>
<path d="M401 857.3V860.1" stroke="#555" stroke-width="1.1"/>
<text transform="matrix(0.9 0 0 1 401 872.4)" class="xl">90</text>
<path d="M426.8 857.3V860.1" stroke="#555" stroke-width="1.1"/>
<text transform="matrix(0.9 0 0 1 426.8 872.4)" class="xl">105</text>
<path d="M452.6 857.3V860.1" stroke="#555" stroke-width="1.1"/>
<text transform="matrix(0.9 0 0 1 452.6 872.4)" class="xl">120</text>
<path d="M478.4 857.3V860.1" stroke="#555" stroke-width="1.1"/>
<text transform="matrix(0.9 0 0 1 478.4 872.4)" class="xl">135</text>
<path d="M504.2 857.3V860.1" stroke="#555" stroke-width="1.1"/>
<text transform="matrix(0.9 0 0 1 504.2 872.4)" class="xl">150</text>
<path d="M530 857.3V860.1" stroke="#555" stroke-width="1.1"/>
<text transform="matrix(0.9 0 0 1 530 872.4)" class="xl">165</text>
<path d="M413.9 855.9V857.9" stroke="#333" stroke-width="1"/>
<path d="M439.7 855.9V857.9" stroke="#333" stroke-width="1"/>
<path d="M465.5 855.9V857.9" stroke="#333" stroke-width="1"/>
<path d="M491.3 855.9V857.9" stroke="#333" stroke-width="1"/>
<path d="M517.1 855.9V857.9" stroke="#333" stroke-width="1"/>
<path d="M542.9 855.9V857.9" stroke="#333" stroke-width="1"/>
<path d="M39.6 144.9 L55.6 156 L71.6 146.4 L87.6 149 L103.6 156.5 L119.6 183.7 L135.6 163.1 L151.6 156.8" fill="none" stroke="#7e7e7e" stroke-width="0.9"/>
<path d="M39.6 150.3 L55.6 120.5 L71.6 162 L87.6 177.6 L103.6 168.6 L119.6 169.3 L135.6 133 L151.6 162.7" fill="none" stroke="#7e7e7e" stroke-width="0.9"/>
<path d="M39.6 175.2 L55.6 174.5 L71.6 174.5 L87.6 176.2 L103.6 174.9 L119.6 173.3 L135.6 175.7 L151.6 178.1" fill="none" stroke="#7e7e7e" stroke-width="0.9"/>
<rect x="36.6" y="141.9" width="6" height="6" fill="#000" stroke="#fff" stroke-width="1.8" paint-order="stroke"/>
<rect x="52.6" y="153" width="6" height="6" fill="#000" stroke="#fff" stroke-width="1.8" paint-order="stroke"/>
<rect x="68.6" y="143.4" width="6" height="6" fill="#000" stroke="#fff" stroke-width="1.8" paint-order="stroke"/>
<rect x="84.6" y="146" width="6" height="6" fill="#000" stroke="#fff" stroke-width="1.8" paint-order="stroke"/>
<rect x="100.6" y="153.5" width="6" height="6" fill="#000" stroke="#fff" stroke-width="1.8" paint-order="stroke"/>
<rect x="116.6" y="180.7" width="6" height="6" fill="#000" stroke="#fff" stroke-width="1.8" paint-order="stroke"/>
<rect x="132.6" y="160.1" width="6" height="6" fill="#000" stroke="#fff" stroke-width="1.8" paint-order="stroke"/>
<rect x="148.6" y="153.8" width="6" height="6" fill="#000" stroke="#fff" stroke-width="1.8" paint-order="stroke"/>
<rect x="37.23" y="147.93" width="4.75" height="4.75" fill="#fff" stroke="#fff" stroke-width="3.05"/>
<rect x="37.23" y="147.93" width="4.75" height="4.75" fill="none" stroke="#1a1a1a" stroke-width="1.25"/>
<rect x="53.23" y="118.12" width="4.75" height="4.75" fill="#fff" stroke="#fff" stroke-width="3.05"/>
<rect x="53.23" y="118.12" width="4.75" height="4.75" fill="none" stroke="#1a1a1a" stroke-width="1.25"/>
<rect x="69.22" y="159.62" width="4.75" height="4.75" fill="#fff" stroke="#fff" stroke-width="3.05"/>
<rect x="69.22" y="159.62" width="4.75" height="4.75" fill="none" stroke="#1a1a1a" stroke-width="1.25"/>
<rect x="85.22" y="175.22" width="4.75" height="4.75" fill="#fff" stroke="#fff" stroke-width="3.05"/>
<rect x="85.22" y="175.22" width="4.75" height="4.75" fill="none" stroke="#1a1a1a" stroke-width="1.25"/>
<rect x="101.22" y="166.22" width="4.75" height="4.75" fill="#fff" stroke="#fff" stroke-width="3.05"/>
<rect x="101.22" y="166.22" width="4.75" height="4.75" fill="none" stroke="#1a1a1a" stroke-width="1.25"/>
<rect x="117.22" y="166.93" width="4.75" height="4.75" fill="#fff" stroke="#fff" stroke-width="3.05"/>
<rect x="117.22" y="166.93" width="4.75" height="4.75" fill="none" stroke="#1a1a1a" stroke-width="1.25"/>
<rect x="133.22" y="130.62" width="4.75" height="4.75" fill="#fff" stroke="#fff" stroke-width="3.05"/>
<rect x="133.22" y="130.62" width="4.75" height="4.75" fill="none" stroke="#1a1a1a" stroke-width="1.25"/>
<rect x="149.22" y="160.32" width="4.75" height="4.75" fill="#fff" stroke="#fff" stroke-width="3.05"/>
<rect x="149.22" y="160.32" width="4.75" height="4.75" fill="none" stroke="#1a1a1a" stroke-width="1.25"/>
<path d="M39.6 171.05L43.8 178.35H35.4Z" fill="#000" stroke="#fff" stroke-width="1.1" stroke-linejoin="round" paint-order="stroke"/>
<path d="M55.6 170.35L59.8 177.65H51.4Z" fill="#000" stroke="#fff" stroke-width="1.1" stroke-linejoin="round" paint-order="stroke"/>
<path d="M71.6 170.35L75.8 177.65H67.4Z" fill="#000" stroke="#fff" stroke-width="1.1" stroke-linejoin="round" paint-order="stroke"/>
<path d="M87.6 172.05L91.8 179.35H83.4Z" fill="#000" stroke="#fff" stroke-width="1.1" stroke-linejoin="round" paint-order="stroke"/>
<path d="M103.6 170.75L107.8 178.05H99.4Z" fill="#000" stroke="#fff" stroke-width="1.1" stroke-linejoin="round" paint-order="stroke"/>
<path d="M119.6 169.15L123.8 176.45H115.4Z" fill="#000" stroke="#fff" stroke-width="1.1" stroke-linejoin="round" paint-order="stroke"/>
<path d="M135.6 171.55L139.8 178.85H131.4Z" fill="#000" stroke="#fff" stroke-width="1.1" stroke-linejoin="round" paint-order="stroke"/>
<path d="M151.6 173.95L155.8 181.25H147.4Z" fill="#000" stroke="#fff" stroke-width="1.1" stroke-linejoin="round" paint-order="stroke"/>
<path d="M226 94.5 L242 84 L258 71.8 L274 69.5 L290 83.6 L306 62.2 L322 114 L338 164.9" fill="none" stroke="#7e7e7e" stroke-width="0.9"/>
<path d="M226 76 L242 62.4 L258 65.8 L274 56 L290 67.6 L306 92.2 L322 42.7 L338 128.7" fill="none" stroke="#7e7e7e" stroke-width="0.9"/>
<path d="M226 35 L242 31.4 L258 37.8 L274 35 L290 33.2 L306 31.4 L322 29.6 L338 42" fill="none" stroke="#7e7e7e" stroke-width="0.9"/>
<rect x="223" y="91.5" width="6" height="6" fill="#000" stroke="#fff" stroke-width="1.8" paint-order="stroke"/>
<rect x="239" y="81" width="6" height="6" fill="#000" stroke="#fff" stroke-width="1.8" paint-order="stroke"/>
<rect x="255" y="68.8" width="6" height="6" fill="#000" stroke="#fff" stroke-width="1.8" paint-order="stroke"/>
<rect x="271" y="66.5" width="6" height="6" fill="#000" stroke="#fff" stroke-width="1.8" paint-order="stroke"/>
<rect x="287" y="80.6" width="6" height="6" fill="#000" stroke="#fff" stroke-width="1.8" paint-order="stroke"/>
<rect x="303" y="59.2" width="6" height="6" fill="#000" stroke="#fff" stroke-width="1.8" paint-order="stroke"/>
<rect x="319" y="111" width="6" height="6" fill="#000" stroke="#fff" stroke-width="1.8" paint-order="stroke"/>
<rect x="335" y="161.9" width="6" height="6" fill="#000" stroke="#fff" stroke-width="1.8" paint-order="stroke"/>
<rect x="223.62" y="73.62" width="4.75" height="4.75" fill="#fff" stroke="#fff" stroke-width="3.05"/>
<rect x="223.62" y="73.62" width="4.75" height="4.75" fill="none" stroke="#1a1a1a" stroke-width="1.25"/>
<rect x="239.62" y="60.02" width="4.75" height="4.75" fill="#fff" stroke="#fff" stroke-width="3.05"/>
<rect x="239.62" y="60.02" width="4.75" height="4.75" fill="none" stroke="#1a1a1a" stroke-width="1.25"/>
<rect x="255.62" y="63.42" width="4.75" height="4.75" fill="#fff" stroke="#fff" stroke-width="3.05"/>
<rect x="255.62" y="63.42" width="4.75" height="4.75" fill="none" stroke="#1a1a1a" stroke-width="1.25"/>
<rect x="271.62" y="53.62" width="4.75" height="4.75" fill="#fff" stroke="#fff" stroke-width="3.05"/>
<rect x="271.62" y="53.62" width="4.75" height="4.75" fill="none" stroke="#1a1a1a" stroke-width="1.25"/>
<rect x="287.62" y="65.22" width="4.75" height="4.75" fill="#fff" stroke="#fff" stroke-width="3.05"/>
<rect x="287.62" y="65.22" width="4.75" height="4.75" fill="none" stroke="#1a1a1a" stroke-width="1.25"/>
<rect x="303.62" y="89.83" width="4.75" height="4.75" fill="#fff" stroke="#fff" stroke-width="3.05"/>
<rect x="303.62" y="89.83" width="4.75" height="4.75" fill="none" stroke="#1a1a1a" stroke-width="1.25"/>
<rect x="319.62" y="40.33" width="4.75" height="4.75" fill="#fff" stroke="#fff" stroke-width="3.05"/>
<rect x="319.62" y="40.33" width="4.75" height="4.75" fill="none" stroke="#1a1a1a" stroke-width="1.25"/>
<rect x="335.62" y="126.32" width="4.75" height="4.75" fill="#fff" stroke="#fff" stroke-width="3.05"/>
<rect x="335.62" y="126.32" width="4.75" height="4.75" fill="none" stroke="#1a1a1a" stroke-width="1.25"/>
<path d="M226 30.85L230.2 38.15H221.8Z" fill="#000" stroke="#fff" stroke-width="1.1" stroke-linejoin="round" paint-order="stroke"/>
<path d="M242 27.25L246.2 34.55H237.8Z" fill="#000" stroke="#fff" stroke-width="1.1" stroke-linejoin="round" paint-order="stroke"/>
<path d="M258 33.65L262.2 40.95H253.8Z" fill="#000" stroke="#fff" stroke-width="1.1" stroke-linejoin="round" paint-order="stroke"/>
<path d="M274 30.85L278.2 38.15H269.8Z" fill="#000" stroke="#fff" stroke-width="1.1" stroke-linejoin="round" paint-order="stroke"/>
<path d="M290 29.05L294.2 36.35H285.8Z" fill="#000" stroke="#fff" stroke-width="1.1" stroke-linejoin="round" paint-order="stroke"/>
<path d="M306 27.25L310.2 34.55H301.8Z" fill="#000" stroke="#fff" stroke-width="1.1" stroke-linejoin="round" paint-order="stroke"/>
<path d="M322 25.45L326.2 32.75H317.8Z" fill="#000" stroke="#fff" stroke-width="1.1" stroke-linejoin="round" paint-order="stroke"/>
<path d="M338 37.85L342.2 45.15H333.8Z" fill="#000" stroke="#fff" stroke-width="1.1" stroke-linejoin="round" paint-order="stroke"/>
<path d="M412.5 58.5 L428.5 58.5 L444.5 55.5 L460.5 53.6 L476.5 59.1 L492.5 46.9 L508.5 63.3 L524.5 41.8" fill="none" stroke="#7e7e7e" stroke-width="0.9"/>
<path d="M412.5 62.4 L428.5 64.5 L444.5 59.6 L460.5 58 L476.5 50 L492.5 55.5 L508.5 23.6 L524.5 51.3" fill="none" stroke="#7e7e7e" stroke-width="0.9"/>
<path d="M412.5 26 L428.5 34.1 L444.5 31.4 L460.5 33.4 L476.5 30.1 L492.5 23.2 L508.5 46.9 L524.5 89" fill="none" stroke="#7e7e7e" stroke-width="0.9"/>
<rect x="409.5" y="55.5" width="6" height="6" fill="#000" stroke="#fff" stroke-width="1.8" paint-order="stroke"/>
<rect x="425.5" y="55.5" width="6" height="6" fill="#000" stroke="#fff" stroke-width="1.8" paint-order="stroke"/>
<rect x="441.5" y="52.5" width="6" height="6" fill="#000" stroke="#fff" stroke-width="1.8" paint-order="stroke"/>
<rect x="457.5" y="50.6" width="6" height="6" fill="#000" stroke="#fff" stroke-width="1.8" paint-order="stroke"/>
<rect x="473.5" y="56.1" width="6" height="6" fill="#000" stroke="#fff" stroke-width="1.8" paint-order="stroke"/>
<rect x="489.5" y="43.9" width="6" height="6" fill="#000" stroke="#fff" stroke-width="1.8" paint-order="stroke"/>
<rect x="505.5" y="60.3" width="6" height="6" fill="#000" stroke="#fff" stroke-width="1.8" paint-order="stroke"/>
<rect x="521.5" y="38.8" width="6" height="6" fill="#000" stroke="#fff" stroke-width="1.8" paint-order="stroke"/>
<rect x="410.12" y="60.02" width="4.75" height="4.75" fill="#fff" stroke="#fff" stroke-width="3.05"/>
<rect x="410.12" y="60.02" width="4.75" height="4.75" fill="none" stroke="#1a1a1a" stroke-width="1.25"/>
<rect x="426.12" y="62.12" width="4.75" height="4.75" fill="#fff" stroke="#fff" stroke-width="3.05"/>
<rect x="426.12" y="62.12" width="4.75" height="4.75" fill="none" stroke="#1a1a1a" stroke-width="1.25"/>
<rect x="442.12" y="57.23" width="4.75" height="4.75" fill="#fff" stroke="#fff" stroke-width="3.05"/>
<rect x="442.12" y="57.23" width="4.75" height="4.75" fill="none" stroke="#1a1a1a" stroke-width="1.25"/>
<rect x="458.12" y="55.62" width="4.75" height="4.75" fill="#fff" stroke="#fff" stroke-width="3.05"/>
<rect x="458.12" y="55.62" width="4.75" height="4.75" fill="none" stroke="#1a1a1a" stroke-width="1.25"/>
<rect x="474.12" y="47.62" width="4.75" height="4.75" fill="#fff" stroke="#fff" stroke-width="3.05"/>
<rect x="474.12" y="47.62" width="4.75" height="4.75" fill="none" stroke="#1a1a1a" stroke-width="1.25"/>
<rect x="490.12" y="53.12" width="4.75" height="4.75" fill="#fff" stroke="#fff" stroke-width="3.05"/>
<rect x="490.12" y="53.12" width="4.75" height="4.75" fill="none" stroke="#1a1a1a" stroke-width="1.25"/>
<rect x="506.12" y="21.23" width="4.75" height="4.75" fill="#fff" stroke="#fff" stroke-width="3.05"/>
<rect x="506.12" y="21.23" width="4.75" height="4.75" fill="none" stroke="#1a1a1a" stroke-width="1.25"/>
<rect x="522.12" y="48.92" width="4.75" height="4.75" fill="#fff" stroke="#fff" stroke-width="3.05"/>
<rect x="522.12" y="48.92" width="4.75" height="4.75" fill="none" stroke="#1a1a1a" stroke-width="1.25"/>
<path d="M412.5 21.85L416.7 29.15H408.3Z" fill="#000" stroke="#fff" stroke-width="1.1" stroke-linejoin="round" paint-order="stroke"/>
<path d="M428.5 29.95L432.7 37.25H424.3Z" fill="#000" stroke="#fff" stroke-width="1.1" stroke-linejoin="round" paint-order="stroke"/>
<path d="M444.5 27.25L448.7 34.55H440.3Z" fill="#000" stroke="#fff" stroke-width="1.1" stroke-linejoin="round" paint-order="stroke"/>
<path d="M460.5 29.25L464.7 36.55H456.3Z" fill="#000" stroke="#fff" stroke-width="1.1" stroke-linejoin="round" paint-order="stroke"/>
<path d="M476.5 25.95L480.7 33.25H472.3Z" fill="#000" stroke="#fff" stroke-width="1.1" stroke-linejoin="round" paint-order="stroke"/>
<path d="M492.5 19.05L496.7 26.35H488.3Z" fill="#000" stroke="#fff" stroke-width="1.1" stroke-linejoin="round" paint-order="stroke"/>
<path d="M508.5 42.75L512.7 50.05H504.3Z" fill="#000" stroke="#fff" stroke-width="1.1" stroke-linejoin="round" paint-order="stroke"/>
<path d="M524.5 84.85L528.7 92.15H520.3Z" fill="#000" stroke="#fff" stroke-width="1.1" stroke-linejoin="round" paint-order="stroke"/>
<path d="M39.9 251.3 L55.9 242.2 L71.9 241.8 L87.9 244.5 L103.9 242.2 L119.9 242.7 L135.9 242.2 L151.9 256.7" fill="none" stroke="#7e7e7e" stroke-width="0.9"/>
<path d="M39.9 248.2 L55.9 253.1 L71.9 246.4 L87.9 249.5 L103.9 253.8 L119.9 255.1 L135.9 256.4 L151.9 268.7" fill="none" stroke="#7e7e7e" stroke-width="0.9"/>
<path d="M39.9 271.4 L55.9 272 L71.9 273.2 L87.9 275.2 L103.9 274.5 L119.9 276.9 L135.9 280 L151.9 289.6" fill="none" stroke="#7e7e7e" stroke-width="0.9"/>
<rect x="36.9" y="248.3" width="6" height="6" fill="#000" stroke="#fff" stroke-width="1.8" paint-order="stroke"/>
<rect x="52.9" y="239.2" width="6" height="6" fill="#000" stroke="#fff" stroke-width="1.8" paint-order="stroke"/>
<rect x="68.9" y="238.8" width="6" height="6" fill="#000" stroke="#fff" stroke-width="1.8" paint-order="stroke"/>
<rect x="84.9" y="241.5" width="6" height="6" fill="#000" stroke="#fff" stroke-width="1.8" paint-order="stroke"/>
<rect x="100.9" y="239.2" width="6" height="6" fill="#000" stroke="#fff" stroke-width="1.8" paint-order="stroke"/>
<rect x="116.9" y="239.7" width="6" height="6" fill="#000" stroke="#fff" stroke-width="1.8" paint-order="stroke"/>
<rect x="132.9" y="239.2" width="6" height="6" fill="#000" stroke="#fff" stroke-width="1.8" paint-order="stroke"/>
<rect x="148.9" y="253.7" width="6" height="6" fill="#000" stroke="#fff" stroke-width="1.8" paint-order="stroke"/>
<rect x="37.52" y="245.82" width="4.75" height="4.75" fill="#fff" stroke="#fff" stroke-width="3.05"/>
<rect x="37.52" y="245.82" width="4.75" height="4.75" fill="none" stroke="#1a1a1a" stroke-width="1.25"/>
<rect x="53.52" y="250.72" width="4.75" height="4.75" fill="#fff" stroke="#fff" stroke-width="3.05"/>
<rect x="53.52" y="250.72" width="4.75" height="4.75" fill="none" stroke="#1a1a1a" stroke-width="1.25"/>
<rect x="69.53" y="244.03" width="4.75" height="4.75" fill="#fff" stroke="#fff" stroke-width="3.05"/>
<rect x="69.53" y="244.03" width="4.75" height="4.75" fill="none" stroke="#1a1a1a" stroke-width="1.25"/>
<rect x="85.53" y="247.12" width="4.75" height="4.75" fill="#fff" stroke="#fff" stroke-width="3.05"/>
<rect x="85.53" y="247.12" width="4.75" height="4.75" fill="none" stroke="#1a1a1a" stroke-width="1.25"/>
<rect x="101.53" y="251.43" width="4.75" height="4.75" fill="#fff" stroke="#fff" stroke-width="3.05"/>
<rect x="101.53" y="251.43" width="4.75" height="4.75" fill="none" stroke="#1a1a1a" stroke-width="1.25"/>
<rect x="117.53" y="252.72" width="4.75" height="4.75" fill="#fff" stroke="#fff" stroke-width="3.05"/>
<rect x="117.53" y="252.72" width="4.75" height="4.75" fill="none" stroke="#1a1a1a" stroke-width="1.25"/>
<rect x="133.53" y="254.02" width="4.75" height="4.75" fill="#fff" stroke="#fff" stroke-width="3.05"/>
<rect x="133.53" y="254.02" width="4.75" height="4.75" fill="none" stroke="#1a1a1a" stroke-width="1.25"/>
<rect x="149.53" y="266.32" width="4.75" height="4.75" fill="#fff" stroke="#fff" stroke-width="3.05"/>
<rect x="149.53" y="266.32" width="4.75" height="4.75" fill="none" stroke="#1a1a1a" stroke-width="1.25"/>
<path d="M39.9 267.25L44.1 274.55H35.7Z" fill="#000" stroke="#fff" stroke-width="1.1" stroke-linejoin="round" paint-order="stroke"/>
<path d="M55.9 267.85L60.1 275.15H51.7Z" fill="#000" stroke="#fff" stroke-width="1.1" stroke-linejoin="round" paint-order="stroke"/>
<path d="M71.9 269.05L76.1 276.35H67.7Z" fill="#000" stroke="#fff" stroke-width="1.1" stroke-linejoin="round" paint-order="stroke"/>
<path d="M87.9 271.05L92.1 278.35H83.7Z" fill="#000" stroke="#fff" stroke-width="1.1" stroke-linejoin="round" paint-order="stroke"/>
<path d="M103.9 270.35L108.1 277.65H99.7Z" fill="#000" stroke="#fff" stroke-width="1.1" stroke-linejoin="round" paint-order="stroke"/>
<path d="M119.9 272.75L124.1 280.05H115.7Z" fill="#000" stroke="#fff" stroke-width="1.1" stroke-linejoin="round" paint-order="stroke"/>
<path d="M135.9 275.85L140.1 283.15H131.7Z" fill="#000" stroke="#fff" stroke-width="1.1" stroke-linejoin="round" paint-order="stroke"/>
<path d="M151.9 285.45L156.1 292.75H147.7Z" fill="#000" stroke="#fff" stroke-width="1.1" stroke-linejoin="round" paint-order="stroke"/>
<path d="M226.2 409.9 L242.2 409.6 L258.2 410.6 L274.2 405.3 L290.2 403 L306.2 399 L322.2 402.3 L338.2 409.6" fill="none" stroke="#7e7e7e" stroke-width="0.9"/>
<path d="M226.2 396.8 L242.2 396.5 L258.2 394.9 L274.2 390.1 L290.2 396.9 L306.2 399.3 L322.2 401 L338.2 390.1" fill="none" stroke="#7e7e7e" stroke-width="0.9"/>
<path d="M226.2 410.4 L242.2 410.1 L258.2 411.1 L274.2 410.2 L290.2 409.7 L306.2 409.7 L322.2 409.5 L338.2 405.5" fill="none" stroke="#7e7e7e" stroke-width="0.9"/>
<rect x="223.2" y="406.9" width="6" height="6" fill="#000" stroke="#fff" stroke-width="1.8" paint-order="stroke"/>
<rect x="239.2" y="406.6" width="6" height="6" fill="#000" stroke="#fff" stroke-width="1.8" paint-order="stroke"/>
<rect x="255.2" y="407.6" width="6" height="6" fill="#000" stroke="#fff" stroke-width="1.8" paint-order="stroke"/>
<rect x="271.2" y="402.3" width="6" height="6" fill="#000" stroke="#fff" stroke-width="1.8" paint-order="stroke"/>
<rect x="287.2" y="400" width="6" height="6" fill="#000" stroke="#fff" stroke-width="1.8" paint-order="stroke"/>
<rect x="303.2" y="396" width="6" height="6" fill="#000" stroke="#fff" stroke-width="1.8" paint-order="stroke"/>
<rect x="319.2" y="399.3" width="6" height="6" fill="#000" stroke="#fff" stroke-width="1.8" paint-order="stroke"/>
<rect x="335.2" y="406.6" width="6" height="6" fill="#000" stroke="#fff" stroke-width="1.8" paint-order="stroke"/>
<rect x="223.82" y="394.43" width="4.75" height="4.75" fill="#fff" stroke="#fff" stroke-width="3.05"/>
<rect x="223.82" y="394.43" width="4.75" height="4.75" fill="none" stroke="#1a1a1a" stroke-width="1.25"/>
<rect x="239.82" y="394.12" width="4.75" height="4.75" fill="#fff" stroke="#fff" stroke-width="3.05"/>
<rect x="239.82" y="394.12" width="4.75" height="4.75" fill="none" stroke="#1a1a1a" stroke-width="1.25"/>
<rect x="255.82" y="392.52" width="4.75" height="4.75" fill="#fff" stroke="#fff" stroke-width="3.05"/>
<rect x="255.82" y="392.52" width="4.75" height="4.75" fill="none" stroke="#1a1a1a" stroke-width="1.25"/>
<rect x="271.82" y="387.73" width="4.75" height="4.75" fill="#fff" stroke="#fff" stroke-width="3.05"/>
<rect x="271.82" y="387.73" width="4.75" height="4.75" fill="none" stroke="#1a1a1a" stroke-width="1.25"/>
<rect x="287.82" y="394.52" width="4.75" height="4.75" fill="#fff" stroke="#fff" stroke-width="3.05"/>
<rect x="287.82" y="394.52" width="4.75" height="4.75" fill="none" stroke="#1a1a1a" stroke-width="1.25"/>
<rect x="303.82" y="396.93" width="4.75" height="4.75" fill="#fff" stroke="#fff" stroke-width="3.05"/>
<rect x="303.82" y="396.93" width="4.75" height="4.75" fill="none" stroke="#1a1a1a" stroke-width="1.25"/>
<rect x="319.82" y="398.62" width="4.75" height="4.75" fill="#fff" stroke="#fff" stroke-width="3.05"/>
<rect x="319.82" y="398.62" width="4.75" height="4.75" fill="none" stroke="#1a1a1a" stroke-width="1.25"/>
<rect x="335.82" y="387.73" width="4.75" height="4.75" fill="#fff" stroke="#fff" stroke-width="3.05"/>
<rect x="335.82" y="387.73" width="4.75" height="4.75" fill="none" stroke="#1a1a1a" stroke-width="1.25"/>
<path d="M226.2 406.25L230.4 413.55H222Z" fill="#000" stroke="#fff" stroke-width="1.1" stroke-linejoin="round" paint-order="stroke"/>
<path d="M242.2 405.95L246.4 413.25H238Z" fill="#000" stroke="#fff" stroke-width="1.1" stroke-linejoin="round" paint-order="stroke"/>
<path d="M258.2 406.95L262.4 414.25H254Z" fill="#000" stroke="#fff" stroke-width="1.1" stroke-linejoin="round" paint-order="stroke"/>
<path d="M274.2 406.05L278.4 413.35H270Z" fill="#000" stroke="#fff" stroke-width="1.1" stroke-linejoin="round" paint-order="stroke"/>
<path d="M290.2 405.55L294.4 412.85H286Z" fill="#000" stroke="#fff" stroke-width="1.1" stroke-linejoin="round" paint-order="stroke"/>
<path d="M306.2 405.55L310.4 412.85H302Z" fill="#000" stroke="#fff" stroke-width="1.1" stroke-linejoin="round" paint-order="stroke"/>
<path d="M322.2 405.35L326.4 412.65H318Z" fill="#000" stroke="#fff" stroke-width="1.1" stroke-linejoin="round" paint-order="stroke"/>
<path d="M338.2 401.35L342.4 408.65H334Z" fill="#000" stroke="#fff" stroke-width="1.1" stroke-linejoin="round" paint-order="stroke"/>
<path d="M412.5 318.2 L428.5 323 L444.5 323 L460.5 323 L476.5 323 L492.5 310.4 L508.5 316.9 L524.5 323" fill="none" stroke="#7e7e7e" stroke-width="0.9"/>
<path d="M412.5 323.3 L428.5 323.1 L444.5 323.1 L460.5 323.2 L476.5 322.7 L492.5 323.3 L508.5 322.7 L524.5 323.1" fill="none" stroke="#7e7e7e" stroke-width="0.9"/>
<path d="M412.5 349.6 L428.5 352.9 L444.5 355 L460.5 354.1 L476.5 355 L492.5 353.2 L508.5 356.9 L524.5 341.8" fill="none" stroke="#7e7e7e" stroke-width="0.9"/>
<rect x="409.5" y="315.2" width="6" height="6" fill="#000" stroke="#fff" stroke-width="1.8" paint-order="stroke"/>
<rect x="425.5" y="320" width="6" height="6" fill="#000" stroke="#fff" stroke-width="1.8" paint-order="stroke"/>
<rect x="441.5" y="320" width="6" height="6" fill="#000" stroke="#fff" stroke-width="1.8" paint-order="stroke"/>
<rect x="457.5" y="320" width="6" height="6" fill="#000" stroke="#fff" stroke-width="1.8" paint-order="stroke"/>
<rect x="473.5" y="320" width="6" height="6" fill="#000" stroke="#fff" stroke-width="1.8" paint-order="stroke"/>
<rect x="489.5" y="307.4" width="6" height="6" fill="#000" stroke="#fff" stroke-width="1.8" paint-order="stroke"/>
<rect x="505.5" y="313.9" width="6" height="6" fill="#000" stroke="#fff" stroke-width="1.8" paint-order="stroke"/>
<rect x="521.5" y="320" width="6" height="6" fill="#000" stroke="#fff" stroke-width="1.8" paint-order="stroke"/>
<rect x="410.12" y="320.93" width="4.75" height="4.75" fill="#fff" stroke="#fff" stroke-width="3.05"/>
<rect x="410.12" y="320.93" width="4.75" height="4.75" fill="none" stroke="#1a1a1a" stroke-width="1.25"/>
<rect x="426.12" y="320.73" width="4.75" height="4.75" fill="#fff" stroke="#fff" stroke-width="3.05"/>
<rect x="426.12" y="320.73" width="4.75" height="4.75" fill="none" stroke="#1a1a1a" stroke-width="1.25"/>
<rect x="442.12" y="320.73" width="4.75" height="4.75" fill="#fff" stroke="#fff" stroke-width="3.05"/>
<rect x="442.12" y="320.73" width="4.75" height="4.75" fill="none" stroke="#1a1a1a" stroke-width="1.25"/>
<rect x="458.12" y="320.82" width="4.75" height="4.75" fill="#fff" stroke="#fff" stroke-width="3.05"/>
<rect x="458.12" y="320.82" width="4.75" height="4.75" fill="none" stroke="#1a1a1a" stroke-width="1.25"/>
<rect x="474.12" y="320.32" width="4.75" height="4.75" fill="#fff" stroke="#fff" stroke-width="3.05"/>
<rect x="474.12" y="320.32" width="4.75" height="4.75" fill="none" stroke="#1a1a1a" stroke-width="1.25"/>
<rect x="490.12" y="320.93" width="4.75" height="4.75" fill="#fff" stroke="#fff" stroke-width="3.05"/>
<rect x="490.12" y="320.93" width="4.75" height="4.75" fill="none" stroke="#1a1a1a" stroke-width="1.25"/>
<rect x="506.12" y="320.32" width="4.75" height="4.75" fill="#fff" stroke="#fff" stroke-width="3.05"/>
<rect x="506.12" y="320.32" width="4.75" height="4.75" fill="none" stroke="#1a1a1a" stroke-width="1.25"/>
<rect x="522.12" y="320.73" width="4.75" height="4.75" fill="#fff" stroke="#fff" stroke-width="3.05"/>
<rect x="522.12" y="320.73" width="4.75" height="4.75" fill="none" stroke="#1a1a1a" stroke-width="1.25"/>
<path d="M412.5 345.45L416.7 352.75H408.3Z" fill="#000" stroke="#fff" stroke-width="1.1" stroke-linejoin="round" paint-order="stroke"/>
<path d="M428.5 348.75L432.7 356.05H424.3Z" fill="#000" stroke="#fff" stroke-width="1.1" stroke-linejoin="round" paint-order="stroke"/>
<path d="M444.5 350.85L448.7 358.15H440.3Z" fill="#000" stroke="#fff" stroke-width="1.1" stroke-linejoin="round" paint-order="stroke"/>
<path d="M460.5 349.95L464.7 357.25H456.3Z" fill="#000" stroke="#fff" stroke-width="1.1" stroke-linejoin="round" paint-order="stroke"/>
<path d="M476.5 350.85L480.7 358.15H472.3Z" fill="#000" stroke="#fff" stroke-width="1.1" stroke-linejoin="round" paint-order="stroke"/>
<path d="M492.5 349.05L496.7 356.35H488.3Z" fill="#000" stroke="#fff" stroke-width="1.1" stroke-linejoin="round" paint-order="stroke"/>
<path d="M508.5 352.75L512.7 360.05H504.3Z" fill="#000" stroke="#fff" stroke-width="1.1" stroke-linejoin="round" paint-order="stroke"/>
<path d="M524.5 337.65L528.7 344.95H520.3Z" fill="#000" stroke="#fff" stroke-width="1.1" stroke-linejoin="round" paint-order="stroke"/>
<path d="M62.7 620.3 L80.05 624.6 L97.4 615.2 L114.75 629 L132.1 616.3 L149.45 591.4 L158.12 619.5" fill="none" stroke="#7e7e7e" stroke-width="0.9"/>
<path d="M45.35 612.7 L62.7 617.5 L80.05 620.5 L97.4 615.1 L114.75 617.7 L132.1 617 L149.45 616" fill="none" stroke="#7e7e7e" stroke-width="0.9"/>
<path d="M45.35 619.7 L62.7 616.9 L80.05 620.1 L114.75 618.4 L132.1 601.8 L149.45 604.5 L158.12 604.5" fill="none" stroke="#7e7e7e" stroke-width="0.9"/>
<rect x="60.33" y="617.92" width="4.75" height="4.75" fill="#fff" stroke="#fff" stroke-width="3.05"/>
<rect x="60.33" y="617.92" width="4.75" height="4.75" fill="none" stroke="#1a1a1a" stroke-width="1.25"/>
<rect x="77.68" y="622.23" width="4.75" height="4.75" fill="#fff" stroke="#fff" stroke-width="3.05"/>
<rect x="77.68" y="622.23" width="4.75" height="4.75" fill="none" stroke="#1a1a1a" stroke-width="1.25"/>
<rect x="95.03" y="612.83" width="4.75" height="4.75" fill="#fff" stroke="#fff" stroke-width="3.05"/>
<rect x="95.03" y="612.83" width="4.75" height="4.75" fill="none" stroke="#1a1a1a" stroke-width="1.25"/>
<rect x="112.38" y="626.62" width="4.75" height="4.75" fill="#fff" stroke="#fff" stroke-width="3.05"/>
<rect x="112.38" y="626.62" width="4.75" height="4.75" fill="none" stroke="#1a1a1a" stroke-width="1.25"/>
<rect x="129.73" y="613.92" width="4.75" height="4.75" fill="#fff" stroke="#fff" stroke-width="3.05"/>
<rect x="129.73" y="613.92" width="4.75" height="4.75" fill="none" stroke="#1a1a1a" stroke-width="1.25"/>
<rect x="147.07" y="589.02" width="4.75" height="4.75" fill="#fff" stroke="#fff" stroke-width="3.05"/>
<rect x="147.07" y="589.02" width="4.75" height="4.75" fill="none" stroke="#1a1a1a" stroke-width="1.25"/>
<rect x="155.75" y="617.12" width="4.75" height="4.75" fill="#fff" stroke="#fff" stroke-width="3.05"/>
<rect x="155.75" y="617.12" width="4.75" height="4.75" fill="none" stroke="#1a1a1a" stroke-width="1.25"/>
<path d="M45.35 608.55L49.55 615.85H41.15Z" fill="#000" stroke="#fff" stroke-width="1.1" stroke-linejoin="round" paint-order="stroke"/>
<path d="M62.7 613.35L66.9 620.65H58.5Z" fill="#000" stroke="#fff" stroke-width="1.1" stroke-linejoin="round" paint-order="stroke"/>
<path d="M80.05 616.35L84.25 623.65H75.85Z" fill="#000" stroke="#fff" stroke-width="1.1" stroke-linejoin="round" paint-order="stroke"/>
<path d="M97.4 610.95L101.6 618.25H93.2Z" fill="#000" stroke="#fff" stroke-width="1.1" stroke-linejoin="round" paint-order="stroke"/>
<path d="M114.75 613.55L118.95 620.85H110.55Z" fill="#000" stroke="#fff" stroke-width="1.1" stroke-linejoin="round" paint-order="stroke"/>
<path d="M132.1 612.85L136.3 620.15H127.9Z" fill="#000" stroke="#fff" stroke-width="1.1" stroke-linejoin="round" paint-order="stroke"/>
<path d="M149.45 611.85L153.65 619.15H145.25Z" fill="#000" stroke="#fff" stroke-width="1.1" stroke-linejoin="round" paint-order="stroke"/>
<rect x="42.35" y="616.7" width="6" height="6" fill="#000" stroke="#fff" stroke-width="1.8" paint-order="stroke"/>
<rect x="59.7" y="613.9" width="6" height="6" fill="#000" stroke="#fff" stroke-width="1.8" paint-order="stroke"/>
<rect x="77.05" y="617.1" width="6" height="6" fill="#000" stroke="#fff" stroke-width="1.8" paint-order="stroke"/>
<rect x="111.75" y="615.4" width="6" height="6" fill="#000" stroke="#fff" stroke-width="1.8" paint-order="stroke"/>
<rect x="129.1" y="598.8" width="6" height="6" fill="#000" stroke="#fff" stroke-width="1.8" paint-order="stroke"/>
<rect x="146.45" y="601.5" width="6" height="6" fill="#000" stroke="#fff" stroke-width="1.8" paint-order="stroke"/>
<rect x="155.12" y="601.5" width="6" height="6" fill="#000" stroke="#fff" stroke-width="1.8" paint-order="stroke"/>
<path d="M231.63 614.2 L248.96 592.7 L266.29 564.2 L283.62 540.9 L300.95 532.2 L318.28 518.7 L335.61 502.7 L344.27 493.2" fill="none" stroke="#7e7e7e" stroke-width="0.9"/>
<path d="M248.96 583.3 L266.29 543.2 L283.62 544.2 L300.95 524.2 L318.28 497.4 L335.61 489.3 L344.27 477.5" fill="none" stroke="#7e7e7e" stroke-width="0.9"/>
<path d="M231.63 612.9 L248.96 598.3 L266.29 586.9 L283.62 566.5 L300.95 544.7 L318.28 530.9 L335.61 509.1" fill="none" stroke="#7e7e7e" stroke-width="0.9"/>
<rect x="228.63" y="611.2" width="6" height="6" fill="#000" stroke="#fff" stroke-width="1.8" paint-order="stroke"/>
<rect x="245.96" y="589.7" width="6" height="6" fill="#000" stroke="#fff" stroke-width="1.8" paint-order="stroke"/>
<rect x="263.29" y="561.2" width="6" height="6" fill="#000" stroke="#fff" stroke-width="1.8" paint-order="stroke"/>
<rect x="280.62" y="537.9" width="6" height="6" fill="#000" stroke="#fff" stroke-width="1.8" paint-order="stroke"/>
<rect x="297.95" y="529.2" width="6" height="6" fill="#000" stroke="#fff" stroke-width="1.8" paint-order="stroke"/>
<rect x="315.28" y="515.7" width="6" height="6" fill="#000" stroke="#fff" stroke-width="1.8" paint-order="stroke"/>
<rect x="332.61" y="499.7" width="6" height="6" fill="#000" stroke="#fff" stroke-width="1.8" paint-order="stroke"/>
<rect x="341.27" y="490.2" width="6" height="6" fill="#000" stroke="#fff" stroke-width="1.8" paint-order="stroke"/>
<rect x="246.59" y="580.92" width="4.75" height="4.75" fill="#fff" stroke="#fff" stroke-width="3.05"/>
<rect x="246.59" y="580.92" width="4.75" height="4.75" fill="none" stroke="#1a1a1a" stroke-width="1.25"/>
<rect x="263.92" y="540.83" width="4.75" height="4.75" fill="#fff" stroke="#fff" stroke-width="3.05"/>
<rect x="263.92" y="540.83" width="4.75" height="4.75" fill="none" stroke="#1a1a1a" stroke-width="1.25"/>
<rect x="281.25" y="541.83" width="4.75" height="4.75" fill="#fff" stroke="#fff" stroke-width="3.05"/>
<rect x="281.25" y="541.83" width="4.75" height="4.75" fill="none" stroke="#1a1a1a" stroke-width="1.25"/>
<rect x="298.58" y="521.83" width="4.75" height="4.75" fill="#fff" stroke="#fff" stroke-width="3.05"/>
<rect x="298.58" y="521.83" width="4.75" height="4.75" fill="none" stroke="#1a1a1a" stroke-width="1.25"/>
<rect x="315.91" y="495.02" width="4.75" height="4.75" fill="#fff" stroke="#fff" stroke-width="3.05"/>
<rect x="315.91" y="495.02" width="4.75" height="4.75" fill="none" stroke="#1a1a1a" stroke-width="1.25"/>
<rect x="333.24" y="486.93" width="4.75" height="4.75" fill="#fff" stroke="#fff" stroke-width="3.05"/>
<rect x="333.24" y="486.93" width="4.75" height="4.75" fill="none" stroke="#1a1a1a" stroke-width="1.25"/>
<rect x="341.9" y="475.12" width="4.75" height="4.75" fill="#fff" stroke="#fff" stroke-width="3.05"/>
<rect x="341.9" y="475.12" width="4.75" height="4.75" fill="none" stroke="#1a1a1a" stroke-width="1.25"/>
<path d="M231.63 608.75L235.83 616.05H227.43Z" fill="#000" stroke="#fff" stroke-width="1.1" stroke-linejoin="round" paint-order="stroke"/>
<path d="M248.96 594.15L253.16 601.45H244.76Z" fill="#000" stroke="#fff" stroke-width="1.1" stroke-linejoin="round" paint-order="stroke"/>
<path d="M266.29 582.75L270.49 590.05H262.09Z" fill="#000" stroke="#fff" stroke-width="1.1" stroke-linejoin="round" paint-order="stroke"/>
<path d="M283.62 562.35L287.82 569.65H279.42Z" fill="#000" stroke="#fff" stroke-width="1.1" stroke-linejoin="round" paint-order="stroke"/>
<path d="M300.95 540.55L305.15 547.85H296.75Z" fill="#000" stroke="#fff" stroke-width="1.1" stroke-linejoin="round" paint-order="stroke"/>
<path d="M318.28 526.75L322.48 534.05H314.08Z" fill="#000" stroke="#fff" stroke-width="1.1" stroke-linejoin="round" paint-order="stroke"/>
<path d="M335.61 504.95L339.81 512.25H331.41Z" fill="#000" stroke="#fff" stroke-width="1.1" stroke-linejoin="round" paint-order="stroke"/>
<path d="M418.2 488.6 L435.4 471 L452.6 473.6 L469.8 475 L487 477 L504.2 474.6 L521.4 467 L530 466.5" fill="none" stroke="#7e7e7e" stroke-width="0.9"/>
<path d="M435.4 472.6 L452.6 477.8 L469.8 470 L487 477 L504.2 470 L521.4 460 L530 471" fill="none" stroke="#7e7e7e" stroke-width="0.9"/>
<path d="M418.2 487.9 L435.4 487.3 L452.6 485.5 L469.8 483.9 L487 485.5 L504.2 483.9 L521.4 476.5" fill="none" stroke="#7e7e7e" stroke-width="0.9"/>
<rect x="415.2" y="485.6" width="6" height="6" fill="#000" stroke="#fff" stroke-width="1.8" paint-order="stroke"/>
<rect x="432.4" y="468" width="6" height="6" fill="#000" stroke="#fff" stroke-width="1.8" paint-order="stroke"/>
<rect x="449.6" y="470.6" width="6" height="6" fill="#000" stroke="#fff" stroke-width="1.8" paint-order="stroke"/>
<rect x="466.8" y="472" width="6" height="6" fill="#000" stroke="#fff" stroke-width="1.8" paint-order="stroke"/>
<rect x="484" y="474" width="6" height="6" fill="#000" stroke="#fff" stroke-width="1.8" paint-order="stroke"/>
<rect x="501.2" y="471.6" width="6" height="6" fill="#000" stroke="#fff" stroke-width="1.8" paint-order="stroke"/>
<rect x="518.4" y="464" width="6" height="6" fill="#000" stroke="#fff" stroke-width="1.8" paint-order="stroke"/>
<rect x="527" y="463.5" width="6" height="6" fill="#000" stroke="#fff" stroke-width="1.8" paint-order="stroke"/>
<rect x="433.02" y="470.23" width="4.75" height="4.75" fill="#fff" stroke="#fff" stroke-width="3.05"/>
<rect x="433.02" y="470.23" width="4.75" height="4.75" fill="none" stroke="#1a1a1a" stroke-width="1.25"/>
<rect x="450.23" y="475.43" width="4.75" height="4.75" fill="#fff" stroke="#fff" stroke-width="3.05"/>
<rect x="450.23" y="475.43" width="4.75" height="4.75" fill="none" stroke="#1a1a1a" stroke-width="1.25"/>
<rect x="467.43" y="467.62" width="4.75" height="4.75" fill="#fff" stroke="#fff" stroke-width="3.05"/>
<rect x="467.43" y="467.62" width="4.75" height="4.75" fill="none" stroke="#1a1a1a" stroke-width="1.25"/>
<rect x="484.62" y="474.62" width="4.75" height="4.75" fill="#fff" stroke="#fff" stroke-width="3.05"/>
<rect x="484.62" y="474.62" width="4.75" height="4.75" fill="none" stroke="#1a1a1a" stroke-width="1.25"/>
<rect x="501.82" y="467.62" width="4.75" height="4.75" fill="#fff" stroke="#fff" stroke-width="3.05"/>
<rect x="501.82" y="467.62" width="4.75" height="4.75" fill="none" stroke="#1a1a1a" stroke-width="1.25"/>
<rect x="519.02" y="457.62" width="4.75" height="4.75" fill="#fff" stroke="#fff" stroke-width="3.05"/>
<rect x="519.02" y="457.62" width="4.75" height="4.75" fill="none" stroke="#1a1a1a" stroke-width="1.25"/>
<rect x="527.62" y="468.62" width="4.75" height="4.75" fill="#fff" stroke="#fff" stroke-width="3.05"/>
<rect x="527.62" y="468.62" width="4.75" height="4.75" fill="none" stroke="#1a1a1a" stroke-width="1.25"/>
<path d="M418.2 483.75L422.4 491.05H414Z" fill="#000" stroke="#fff" stroke-width="1.1" stroke-linejoin="round" paint-order="stroke"/>
<path d="M435.4 483.15L439.6 490.45H431.2Z" fill="#000" stroke="#fff" stroke-width="1.1" stroke-linejoin="round" paint-order="stroke"/>
<path d="M452.6 481.35L456.8 488.65H448.4Z" fill="#000" stroke="#fff" stroke-width="1.1" stroke-linejoin="round" paint-order="stroke"/>
<path d="M469.8 479.75L474 487.05H465.6Z" fill="#000" stroke="#fff" stroke-width="1.1" stroke-linejoin="round" paint-order="stroke"/>
<path d="M487 481.35L491.2 488.65H482.8Z" fill="#000" stroke="#fff" stroke-width="1.1" stroke-linejoin="round" paint-order="stroke"/>
<path d="M504.2 479.75L508.4 487.05H500Z" fill="#000" stroke="#fff" stroke-width="1.1" stroke-linejoin="round" paint-order="stroke"/>
<path d="M521.4 472.35L525.6 479.65H517.2Z" fill="#000" stroke="#fff" stroke-width="1.1" stroke-linejoin="round" paint-order="stroke"/>
<path d="M62.7 691.9 L80.05 725.5 L97.4 763.4 L114.75 802.7 L132.1 828.7 L149.45 832.7 L158.12 837.8" fill="none" stroke="#7e7e7e" stroke-width="0.9"/>
<path d="M45.35 806 L62.7 803.2 L80.05 812.8 L97.4 820.9 L114.75 831.8 L132.1 841.4 L149.45 844.5" fill="none" stroke="#7e7e7e" stroke-width="0.9"/>
<path d="M45.35 803.4 L62.7 786.2 L80.05 786.2 L97.4 800 L114.75 819.1 L132.1 828.7 L149.45 829.1 L158.12 829.5" fill="none" stroke="#7e7e7e" stroke-width="0.9"/>
<rect x="60.33" y="689.52" width="4.75" height="4.75" fill="#fff" stroke="#fff" stroke-width="3.05"/>
<rect x="60.33" y="689.52" width="4.75" height="4.75" fill="none" stroke="#1a1a1a" stroke-width="1.25"/>
<rect x="77.68" y="723.12" width="4.75" height="4.75" fill="#fff" stroke="#fff" stroke-width="3.05"/>
<rect x="77.68" y="723.12" width="4.75" height="4.75" fill="none" stroke="#1a1a1a" stroke-width="1.25"/>
<rect x="95.03" y="761.02" width="4.75" height="4.75" fill="#fff" stroke="#fff" stroke-width="3.05"/>
<rect x="95.03" y="761.02" width="4.75" height="4.75" fill="none" stroke="#1a1a1a" stroke-width="1.25"/>
<rect x="112.38" y="800.33" width="4.75" height="4.75" fill="#fff" stroke="#fff" stroke-width="3.05"/>
<rect x="112.38" y="800.33" width="4.75" height="4.75" fill="none" stroke="#1a1a1a" stroke-width="1.25"/>
<rect x="129.73" y="826.33" width="4.75" height="4.75" fill="#fff" stroke="#fff" stroke-width="3.05"/>
<rect x="129.73" y="826.33" width="4.75" height="4.75" fill="none" stroke="#1a1a1a" stroke-width="1.25"/>
<rect x="147.07" y="830.33" width="4.75" height="4.75" fill="#fff" stroke="#fff" stroke-width="3.05"/>
<rect x="147.07" y="830.33" width="4.75" height="4.75" fill="none" stroke="#1a1a1a" stroke-width="1.25"/>
<rect x="155.75" y="835.42" width="4.75" height="4.75" fill="#fff" stroke="#fff" stroke-width="3.05"/>
<rect x="155.75" y="835.42" width="4.75" height="4.75" fill="none" stroke="#1a1a1a" stroke-width="1.25"/>
<path d="M45.35 801.85L49.55 809.15H41.15Z" fill="#000" stroke="#fff" stroke-width="1.1" stroke-linejoin="round" paint-order="stroke"/>
<path d="M62.7 799.05L66.9 806.35H58.5Z" fill="#000" stroke="#fff" stroke-width="1.1" stroke-linejoin="round" paint-order="stroke"/>
<path d="M80.05 808.65L84.25 815.95H75.85Z" fill="#000" stroke="#fff" stroke-width="1.1" stroke-linejoin="round" paint-order="stroke"/>
<path d="M97.4 816.75L101.6 824.05H93.2Z" fill="#000" stroke="#fff" stroke-width="1.1" stroke-linejoin="round" paint-order="stroke"/>
<path d="M114.75 827.65L118.95 834.95H110.55Z" fill="#000" stroke="#fff" stroke-width="1.1" stroke-linejoin="round" paint-order="stroke"/>
<path d="M132.1 837.25L136.3 844.55H127.9Z" fill="#000" stroke="#fff" stroke-width="1.1" stroke-linejoin="round" paint-order="stroke"/>
<path d="M149.45 840.35L153.65 847.65H145.25Z" fill="#000" stroke="#fff" stroke-width="1.1" stroke-linejoin="round" paint-order="stroke"/>
<rect x="42.35" y="800.4" width="6" height="6" fill="#000" stroke="#fff" stroke-width="1.8" paint-order="stroke"/>
<rect x="59.7" y="783.2" width="6" height="6" fill="#000" stroke="#fff" stroke-width="1.8" paint-order="stroke"/>
<rect x="77.05" y="783.2" width="6" height="6" fill="#000" stroke="#fff" stroke-width="1.8" paint-order="stroke"/>
<rect x="94.4" y="797" width="6" height="6" fill="#000" stroke="#fff" stroke-width="1.8" paint-order="stroke"/>
<rect x="111.75" y="816.1" width="6" height="6" fill="#000" stroke="#fff" stroke-width="1.8" paint-order="stroke"/>
<rect x="129.1" y="825.7" width="6" height="6" fill="#000" stroke="#fff" stroke-width="1.8" paint-order="stroke"/>
<rect x="146.45" y="826.1" width="6" height="6" fill="#000" stroke="#fff" stroke-width="1.8" paint-order="stroke"/>
<rect x="155.12" y="826.5" width="6" height="6" fill="#000" stroke="#fff" stroke-width="1.8" paint-order="stroke"/>
<path d="M231.63 851.5 L248.96 846.4 L266.29 848.2 L283.62 846.7 L300.95 849.3 L318.28 852.6 L335.61 846.3 L344.27 843.6" fill="none" stroke="#7e7e7e" stroke-width="0.9"/>
<path d="M248.96 841.1 L266.29 844 L283.62 842 L300.95 844.4 L318.28 848.5 L335.61 847.5 L344.27 831.6" fill="none" stroke="#7e7e7e" stroke-width="0.9"/>
<path d="M231.63 850 L248.96 850 L266.29 850.5 L283.62 850.5 L300.95 849.8 L318.28 844.1 L335.61 849.5" fill="none" stroke="#7e7e7e" stroke-width="0.9"/>
<rect x="228.63" y="848.5" width="6" height="6" fill="#000" stroke="#fff" stroke-width="1.8" paint-order="stroke"/>
<rect x="245.96" y="843.4" width="6" height="6" fill="#000" stroke="#fff" stroke-width="1.8" paint-order="stroke"/>
<rect x="263.29" y="845.2" width="6" height="6" fill="#000" stroke="#fff" stroke-width="1.8" paint-order="stroke"/>
<rect x="280.62" y="843.7" width="6" height="6" fill="#000" stroke="#fff" stroke-width="1.8" paint-order="stroke"/>
<rect x="297.95" y="846.3" width="6" height="6" fill="#000" stroke="#fff" stroke-width="1.8" paint-order="stroke"/>
<rect x="315.28" y="849.6" width="6" height="6" fill="#000" stroke="#fff" stroke-width="1.8" paint-order="stroke"/>
<rect x="332.61" y="843.3" width="6" height="6" fill="#000" stroke="#fff" stroke-width="1.8" paint-order="stroke"/>
<rect x="341.27" y="840.6" width="6" height="6" fill="#000" stroke="#fff" stroke-width="1.8" paint-order="stroke"/>
<rect x="246.59" y="838.73" width="4.75" height="4.75" fill="#fff" stroke="#fff" stroke-width="3.05"/>
<rect x="246.59" y="838.73" width="4.75" height="4.75" fill="none" stroke="#1a1a1a" stroke-width="1.25"/>
<rect x="263.92" y="841.62" width="4.75" height="4.75" fill="#fff" stroke="#fff" stroke-width="3.05"/>
<rect x="263.92" y="841.62" width="4.75" height="4.75" fill="none" stroke="#1a1a1a" stroke-width="1.25"/>
<rect x="281.25" y="839.62" width="4.75" height="4.75" fill="#fff" stroke="#fff" stroke-width="3.05"/>
<rect x="281.25" y="839.62" width="4.75" height="4.75" fill="none" stroke="#1a1a1a" stroke-width="1.25"/>
<rect x="298.58" y="842.02" width="4.75" height="4.75" fill="#fff" stroke="#fff" stroke-width="3.05"/>
<rect x="298.58" y="842.02" width="4.75" height="4.75" fill="none" stroke="#1a1a1a" stroke-width="1.25"/>
<rect x="315.91" y="846.12" width="4.75" height="4.75" fill="#fff" stroke="#fff" stroke-width="3.05"/>
<rect x="315.91" y="846.12" width="4.75" height="4.75" fill="none" stroke="#1a1a1a" stroke-width="1.25"/>
<rect x="333.24" y="845.12" width="4.75" height="4.75" fill="#fff" stroke="#fff" stroke-width="3.05"/>
<rect x="333.24" y="845.12" width="4.75" height="4.75" fill="none" stroke="#1a1a1a" stroke-width="1.25"/>
<rect x="341.9" y="829.23" width="4.75" height="4.75" fill="#fff" stroke="#fff" stroke-width="3.05"/>
<rect x="341.9" y="829.23" width="4.75" height="4.75" fill="none" stroke="#1a1a1a" stroke-width="1.25"/>
<path d="M231.63 845.85L235.83 853.15H227.43Z" fill="#000" stroke="#fff" stroke-width="1.1" stroke-linejoin="round" paint-order="stroke"/>
<path d="M248.96 845.85L253.16 853.15H244.76Z" fill="#000" stroke="#fff" stroke-width="1.1" stroke-linejoin="round" paint-order="stroke"/>
<path d="M266.29 846.35L270.49 853.65H262.09Z" fill="#000" stroke="#fff" stroke-width="1.1" stroke-linejoin="round" paint-order="stroke"/>
<path d="M283.62 846.35L287.82 853.65H279.42Z" fill="#000" stroke="#fff" stroke-width="1.1" stroke-linejoin="round" paint-order="stroke"/>
<path d="M300.95 845.65L305.15 852.95H296.75Z" fill="#000" stroke="#fff" stroke-width="1.1" stroke-linejoin="round" paint-order="stroke"/>
<path d="M318.28 839.95L322.48 847.25H314.08Z" fill="#000" stroke="#fff" stroke-width="1.1" stroke-linejoin="round" paint-order="stroke"/>
<path d="M335.61 845.35L339.81 852.65H331.41Z" fill="#000" stroke="#fff" stroke-width="1.1" stroke-linejoin="round" paint-order="stroke"/>
<path d="M418.2 778.3 L435.4 760.4 L452.6 765.6 L469.8 765.6 L487 768.7 L504.2 773.1 L521.4 773.1 L530 772.6" fill="none" stroke="#7e7e7e" stroke-width="0.9"/>
<path d="M435.4 744.8 L452.6 753.1 L469.8 739.1 L487 741.2 L504.2 734.6 L521.4 729.2 L530 735.8" fill="none" stroke="#7e7e7e" stroke-width="0.9"/>
<path d="M418.2 770.5 L435.4 773.4 L452.6 772.2 L469.8 771.3 L487 771.1 L504.2 769.2 L521.4 766.6" fill="none" stroke="#7e7e7e" stroke-width="0.9"/>
<rect x="415.2" y="775.3" width="6" height="6" fill="#000" stroke="#fff" stroke-width="1.8" paint-order="stroke"/>
<rect x="432.4" y="757.4" width="6" height="6" fill="#000" stroke="#fff" stroke-width="1.8" paint-order="stroke"/>
<rect x="449.6" y="762.6" width="6" height="6" fill="#000" stroke="#fff" stroke-width="1.8" paint-order="stroke"/>
<rect x="466.8" y="762.6" width="6" height="6" fill="#000" stroke="#fff" stroke-width="1.8" paint-order="stroke"/>
<rect x="484" y="765.7" width="6" height="6" fill="#000" stroke="#fff" stroke-width="1.8" paint-order="stroke"/>
<rect x="501.2" y="770.1" width="6" height="6" fill="#000" stroke="#fff" stroke-width="1.8" paint-order="stroke"/>
<rect x="518.4" y="770.1" width="6" height="6" fill="#000" stroke="#fff" stroke-width="1.8" paint-order="stroke"/>
<rect x="527" y="769.6" width="6" height="6" fill="#000" stroke="#fff" stroke-width="1.8" paint-order="stroke"/>
<rect x="433.02" y="742.42" width="4.75" height="4.75" fill="#fff" stroke="#fff" stroke-width="3.05"/>
<rect x="433.02" y="742.42" width="4.75" height="4.75" fill="none" stroke="#1a1a1a" stroke-width="1.25"/>
<rect x="450.23" y="750.73" width="4.75" height="4.75" fill="#fff" stroke="#fff" stroke-width="3.05"/>
<rect x="450.23" y="750.73" width="4.75" height="4.75" fill="none" stroke="#1a1a1a" stroke-width="1.25"/>
<rect x="467.43" y="736.73" width="4.75" height="4.75" fill="#fff" stroke="#fff" stroke-width="3.05"/>
<rect x="467.43" y="736.73" width="4.75" height="4.75" fill="none" stroke="#1a1a1a" stroke-width="1.25"/>
<rect x="484.62" y="738.83" width="4.75" height="4.75" fill="#fff" stroke="#fff" stroke-width="3.05"/>
<rect x="484.62" y="738.83" width="4.75" height="4.75" fill="none" stroke="#1a1a1a" stroke-width="1.25"/>
<rect x="501.82" y="732.23" width="4.75" height="4.75" fill="#fff" stroke="#fff" stroke-width="3.05"/>
<rect x="501.82" y="732.23" width="4.75" height="4.75" fill="none" stroke="#1a1a1a" stroke-width="1.25"/>
<rect x="519.02" y="726.83" width="4.75" height="4.75" fill="#fff" stroke="#fff" stroke-width="3.05"/>
<rect x="519.02" y="726.83" width="4.75" height="4.75" fill="none" stroke="#1a1a1a" stroke-width="1.25"/>
<rect x="527.62" y="733.42" width="4.75" height="4.75" fill="#fff" stroke="#fff" stroke-width="3.05"/>
<rect x="527.62" y="733.42" width="4.75" height="4.75" fill="none" stroke="#1a1a1a" stroke-width="1.25"/>
<path d="M418.2 766.35L422.4 773.65H414Z" fill="#000" stroke="#fff" stroke-width="1.1" stroke-linejoin="round" paint-order="stroke"/>
<path d="M435.4 769.25L439.6 776.55H431.2Z" fill="#000" stroke="#fff" stroke-width="1.1" stroke-linejoin="round" paint-order="stroke"/>
<path d="M452.6 768.05L456.8 775.35H448.4Z" fill="#000" stroke="#fff" stroke-width="1.1" stroke-linejoin="round" paint-order="stroke"/>
<path d="M469.8 767.15L474 774.45H465.6Z" fill="#000" stroke="#fff" stroke-width="1.1" stroke-linejoin="round" paint-order="stroke"/>
<path d="M487 766.95L491.2 774.25H482.8Z" fill="#000" stroke="#fff" stroke-width="1.1" stroke-linejoin="round" paint-order="stroke"/>
<path d="M504.2 765.05L508.4 772.35H500Z" fill="#000" stroke="#fff" stroke-width="1.1" stroke-linejoin="round" paint-order="stroke"/>
<path d="M521.4 762.45L525.6 769.75H517.2Z" fill="#000" stroke="#fff" stroke-width="1.1" stroke-linejoin="round" paint-order="stroke"/>
<text x="34.3" y="18" class="tt" style="font-size:20px">R</text>
<text x="249.6" y="144.4" class="tt" style="font-size:21px">P</text>
<text x="484.2" y="168" class="tt" style="font-size:20px">θ</text>
<text x="46.6" y="323" class="tt" style="font-size:20.5px">δ</text>
<text x="239.3" y="346.8" class="tt" style="font-size:20.5px">α</text>
<text x="433.4" y="283.8" class="tt" style="font-size:18.5px">ϕ</text>
<text x="36.8" y="469" class="tt" style="font-size:19.5px">R</text>
<text x="260.6" y="504.5" class="tt" style="font-size:20px">P</text>
<text x="466.3" y="537.5" class="tt" style="font-size:19.5px">θ</text>
<text x="36.8" y="683" class="tt" style="font-size:20.5px">δ</text>
<text x="224.8" y="679.2" class="tt" style="font-size:20.5px">α</text>
<text x="411.3" y="679.5" class="tt" style="font-size:18.5px">ϕ</text>
<path d="M85.5 19.5H124.4" stroke="#999" stroke-width="1"/>
<rect x="102" y="16.5" width="6" height="6" fill="#000" stroke="#fff" stroke-width="1.8" paint-order="stroke"/>
<text x="129" y="24.7" class="lg" style="font-size:17.2px">(<tspan font-weight="bold">a</tspan>)</text>
<path d="M85.5 41.4H124.4" stroke="#999" stroke-width="1"/>
<rect x="102.62" y="39.02" width="4.75" height="4.75" fill="#fff" stroke="#fff" stroke-width="3.05"/>
<rect x="102.62" y="39.02" width="4.75" height="4.75" fill="none" stroke="#1a1a1a" stroke-width="1.25"/>
<text x="129" y="46.6" class="lg" style="font-size:17.2px">(<tspan font-weight="bold">b</tspan>)</text>
<path d="M85.5 62.5H124.4" stroke="#999" stroke-width="1"/>
<path d="M105 58.7L109 65.7H101Z" fill="#000" stroke="#fff" stroke-width="1.1" stroke-linejoin="round" paint-order="stroke"/>
<text x="129" y="67.7" class="lg" style="font-size:17.2px">(<tspan font-weight="bold">c</tspan>)</text>
<path d="M71.8 495H110.5" stroke="#999" stroke-width="1"/>
<rect x="88.3" y="492" width="6" height="6" fill="#000" stroke="#fff" stroke-width="1.8" paint-order="stroke"/>
<text x="115.2" y="500.2" class="lg" style="font-size:16.5px">(<tspan font-weight="bold">a</tspan>)</text>
<path d="M71.8 516.8H110.5" stroke="#999" stroke-width="1"/>
<rect x="88.92" y="514.42" width="4.75" height="4.75" fill="#fff" stroke="#fff" stroke-width="3.05"/>
<rect x="88.92" y="514.42" width="4.75" height="4.75" fill="none" stroke="#1a1a1a" stroke-width="1.25"/>
<text x="115.2" y="522" class="lg" style="font-size:16.5px">(<tspan font-weight="bold">b</tspan>)</text>
<path d="M71.8 537.7H110.5" stroke="#999" stroke-width="1"/>
<path d="M91.3 533.9L95.3 540.9H87.3Z" fill="#000" stroke="#fff" stroke-width="1.1" stroke-linejoin="round" paint-order="stroke"/>
<text x="115.2" y="542.9" class="lg" style="font-size:16.5px">(<tspan font-weight="bold">c</tspan>)</text>
<text x="30.3" y="219.6" class="ob" textLength="163" lengthAdjust="spacingAndGlyphs">observation angle (deg)</text>
<text x="277" y="444.2" class="lab">(<tspan font-weight="bold">i</tspan>)</text>
<text x="277.2" y="888.4" class="lab">(<tspan font-weight="bold">ii</tspan>)</text>
</svg>
</body></html>
